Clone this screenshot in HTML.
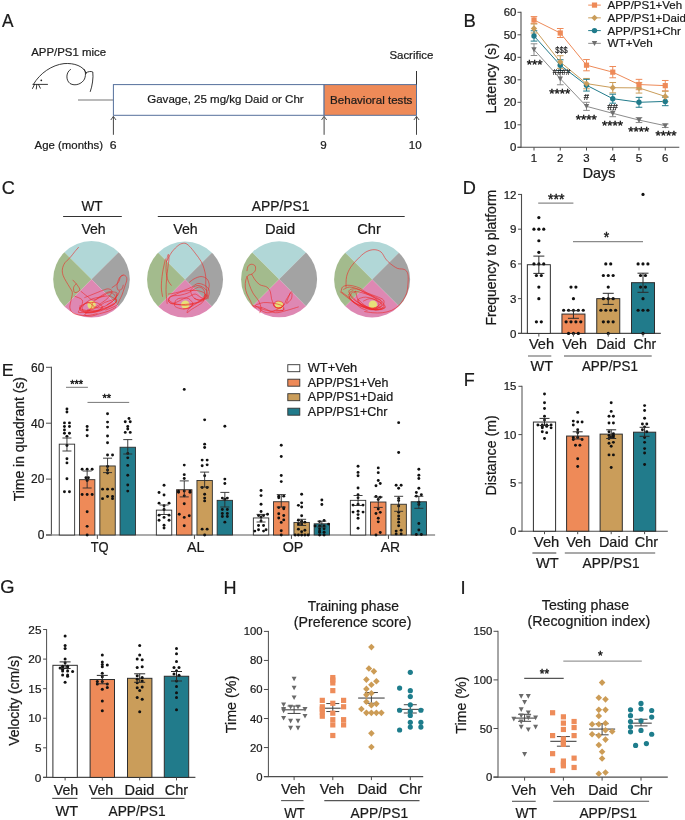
<!DOCTYPE html>
<html><head><meta charset="utf-8"><style>
html,body{margin:0;padding:0;background:#fff;width:685px;height:820px;overflow:hidden}
svg{display:block;font-family:"Liberation Sans",sans-serif;will-change:transform}
text{stroke:#1a1a1a;stroke-width:0.22px}
text.st{stroke:#111;stroke-width:0.4px}
</style></head><body>
<svg width="685" height="820" viewBox="0 0 685 820">
<rect x="0" y="0" width="685" height="820" fill="#ffffff"/>
<text x="2.00" y="27.20" font-size="18" fill="#1a1a1a" textLength="11.54" lengthAdjust="spacingAndGlyphs" >A</text>
<text x="31.20" y="55.70" font-size="11.5" fill="#1a1a1a" textLength="74.95" lengthAdjust="spacingAndGlyphs" >APP/PS1 mice</text>
<g fill="none" stroke="#222" stroke-width="0.9" stroke-linecap="round"><path d="M33.5,84.2 C40,73 52,65 64,63.6 C74,62.8 84,66 86.2,73.5"/><path d="M70.5,69.5 C66,72 65.5,80 70,83.5 C75,86.5 82,84 84.5,79 C86.5,74 85,70 84,69"/><path d="M85.5,73 C88,71.5 91,71 92.8,72 C93.5,78 92.3,86 90.3,91.5"/><path d="M33,84.4 L47.5,84.4"/><path d="M34.5,84.5 L32.5,88.5 M36.8,84.5 L36.3,89 M38.5,84.5 L40.3,88.2"/></g>
<circle cx="41.30" cy="80.30" r="0.9" fill="#222"/>
<line x1="78.00" y1="100.00" x2="113.40" y2="100.00" stroke="#777777" stroke-width="1.2" />
<rect x="113.40" y="84.60" width="210.70" height="30.70" fill="#ffffff" stroke="#55709c" stroke-width="1" />
<rect x="324.10" y="84.60" width="92.40" height="30.70" fill="#EE8A58" stroke="#55709c" stroke-width="1" />
<line x1="416.50" y1="71.00" x2="416.50" y2="84.60" stroke="#333" stroke-width="1" />
<text x="147.22" y="103.40" font-size="11.6" fill="#1a1a1a" textLength="156.48" lengthAdjust="spacingAndGlyphs" >Gavage, 25 mg/kg Daid or Chr</text>
<text x="330.07" y="103.80" font-size="11.6" fill="#1a1a1a" textLength="82.33" lengthAdjust="spacingAndGlyphs" >Behavioral tests</text>
<text x="389.38" y="59.40" font-size="11.6" fill="#1a1a1a" textLength="43.93" lengthAdjust="spacingAndGlyphs" >Sacrifice</text>
<line x1="113.40" y1="116.50" x2="113.40" y2="134.80" stroke="#444" stroke-width="1" />
<path d="M110.80,120 L113.40,116.3 L116.00,120" fill="none" stroke="#444" stroke-width="0.9"/>
<line x1="324.10" y1="116.50" x2="324.10" y2="134.80" stroke="#444" stroke-width="1" />
<path d="M321.50,120 L324.10,116.3 L326.70,120" fill="none" stroke="#444" stroke-width="0.9"/>
<line x1="416.50" y1="116.50" x2="416.50" y2="134.80" stroke="#444" stroke-width="1" />
<path d="M413.90,120 L416.50,116.3 L419.10,120" fill="none" stroke="#444" stroke-width="0.9"/>
<text x="34.60" y="148.50" font-size="11.6" fill="#1a1a1a" textLength="68.41" lengthAdjust="spacingAndGlyphs" >Age (months)</text>
<text x="109.79" y="148.50" font-size="11.6" fill="#1a1a1a" textLength="6.82" lengthAdjust="spacingAndGlyphs" >6</text>
<text x="320.28" y="148.50" font-size="11.6" fill="#1a1a1a" >9</text>
<text x="408.83" y="148.50" font-size="11.6" fill="#1a1a1a" >10</text>
<text x="463.52" y="27.20" font-size="18" fill="#1a1a1a" textLength="12.34" lengthAdjust="spacingAndGlyphs" >B</text>
<line x1="521.00" y1="11.80" x2="521.00" y2="147.80" stroke="#4d4d4d" stroke-width="1.1" />
<line x1="517.50" y1="147.30" x2="679.30" y2="147.30" stroke="#4d4d4d" stroke-width="1.1" />
<line x1="517.50" y1="147.30" x2="521.00" y2="147.30" stroke="#4d4d4d" stroke-width="1" />
<text x="510.07" y="151.40" font-size="11.4" fill="#1a1a1a">0</text>
<line x1="517.50" y1="124.80" x2="521.00" y2="124.80" stroke="#4d4d4d" stroke-width="1" />
<text x="503.75" y="128.90" font-size="11.4" fill="#1a1a1a">10</text>
<line x1="517.50" y1="102.30" x2="521.00" y2="102.30" stroke="#4d4d4d" stroke-width="1" />
<text x="503.75" y="106.40" font-size="11.4" fill="#1a1a1a">20</text>
<line x1="517.50" y1="79.80" x2="521.00" y2="79.80" stroke="#4d4d4d" stroke-width="1" />
<text x="503.75" y="83.90" font-size="11.4" fill="#1a1a1a">30</text>
<line x1="517.50" y1="57.30" x2="521.00" y2="57.30" stroke="#4d4d4d" stroke-width="1" />
<text x="503.75" y="61.40" font-size="11.4" fill="#1a1a1a">40</text>
<line x1="517.50" y1="34.80" x2="521.00" y2="34.80" stroke="#4d4d4d" stroke-width="1" />
<text x="503.75" y="38.90" font-size="11.4" fill="#1a1a1a">50</text>
<line x1="517.50" y1="12.30" x2="521.00" y2="12.30" stroke="#4d4d4d" stroke-width="1" />
<text x="503.75" y="16.40" font-size="11.4" fill="#1a1a1a">60</text>
<line x1="534.00" y1="147.30" x2="534.00" y2="150.50" stroke="#4d4d4d" stroke-width="1" />
<text x="530.67" y="161.80" font-size="11.4" fill="#1a1a1a" >1</text>
<line x1="560.25" y1="147.30" x2="560.25" y2="150.50" stroke="#4d4d4d" stroke-width="1" />
<text x="557.09" y="161.80" font-size="11.4" fill="#1a1a1a" >2</text>
<line x1="586.50" y1="147.30" x2="586.50" y2="150.50" stroke="#4d4d4d" stroke-width="1" />
<text x="583.34" y="161.80" font-size="11.4" fill="#1a1a1a" >3</text>
<line x1="612.75" y1="147.30" x2="612.75" y2="150.50" stroke="#4d4d4d" stroke-width="1" />
<text x="609.64" y="161.80" font-size="11.4" fill="#1a1a1a" >4</text>
<line x1="639.00" y1="147.30" x2="639.00" y2="150.50" stroke="#4d4d4d" stroke-width="1" />
<text x="635.84" y="161.80" font-size="11.4" fill="#1a1a1a" >5</text>
<line x1="665.25" y1="147.30" x2="665.25" y2="150.50" stroke="#4d4d4d" stroke-width="1" />
<text x="662.03" y="161.80" font-size="11.4" fill="#1a1a1a" >6</text>
<text x="582.75" y="178.20" font-size="14.2" fill="#1a1a1a" textLength="32.62" lengthAdjust="spacingAndGlyphs" >Days</text>
<text x="0" y="0" font-size="14" fill="#1a1a1a" textLength="70.31" lengthAdjust="spacingAndGlyphs" transform="translate(496.20,113.44) rotate(-90)">Latency (s)</text>
<polyline points="534.00,19.95 560.25,33.00 586.50,65.18 612.75,72.15 639.00,84.53 665.25,85.65" fill="none" stroke="#EE8A58" stroke-width="1"/>
<polyline points="534.00,28.50 560.25,62.03 586.50,83.62 612.75,87.68 639.00,87.90 665.25,96.45" fill="none" stroke="#CA9D5A" stroke-width="1"/>
<polyline points="534.00,35.93 560.25,65.18 586.50,85.20 612.75,98.70 639.00,102.30 665.25,101.40" fill="none" stroke="#217B8B" stroke-width="1"/>
<polyline points="534.00,49.65 560.25,78.68 586.50,106.35 612.75,113.33 639.00,120.08 665.25,125.70" fill="none" stroke="#8c8c8c" stroke-width="1"/>
<line x1="534.00" y1="16.58" x2="534.00" y2="23.33" stroke="#EE8A58" stroke-width="1" />
<line x1="530.70" y1="16.58" x2="537.30" y2="16.58" stroke="#EE8A58" stroke-width="1" />
<line x1="530.70" y1="23.33" x2="537.30" y2="23.33" stroke="#EE8A58" stroke-width="1" />
<line x1="560.25" y1="28.50" x2="560.25" y2="37.50" stroke="#EE8A58" stroke-width="1" />
<line x1="556.95" y1="28.50" x2="563.55" y2="28.50" stroke="#EE8A58" stroke-width="1" />
<line x1="556.95" y1="37.50" x2="563.55" y2="37.50" stroke="#EE8A58" stroke-width="1" />
<line x1="586.50" y1="59.55" x2="586.50" y2="70.80" stroke="#EE8A58" stroke-width="1" />
<line x1="583.20" y1="59.55" x2="589.80" y2="59.55" stroke="#EE8A58" stroke-width="1" />
<line x1="583.20" y1="70.80" x2="589.80" y2="70.80" stroke="#EE8A58" stroke-width="1" />
<line x1="612.75" y1="66.53" x2="612.75" y2="77.78" stroke="#EE8A58" stroke-width="1" />
<line x1="609.45" y1="66.53" x2="616.05" y2="66.53" stroke="#EE8A58" stroke-width="1" />
<line x1="609.45" y1="77.78" x2="616.05" y2="77.78" stroke="#EE8A58" stroke-width="1" />
<line x1="639.00" y1="79.35" x2="639.00" y2="89.70" stroke="#EE8A58" stroke-width="1" />
<line x1="635.70" y1="79.35" x2="642.30" y2="79.35" stroke="#EE8A58" stroke-width="1" />
<line x1="635.70" y1="89.70" x2="642.30" y2="89.70" stroke="#EE8A58" stroke-width="1" />
<line x1="665.25" y1="80.48" x2="665.25" y2="90.83" stroke="#EE8A58" stroke-width="1" />
<line x1="661.95" y1="80.48" x2="668.55" y2="80.48" stroke="#EE8A58" stroke-width="1" />
<line x1="661.95" y1="90.83" x2="668.55" y2="90.83" stroke="#EE8A58" stroke-width="1" />
<line x1="534.00" y1="24.00" x2="534.00" y2="33.00" stroke="#CA9D5A" stroke-width="1" />
<line x1="530.70" y1="24.00" x2="537.30" y2="24.00" stroke="#CA9D5A" stroke-width="1" />
<line x1="530.70" y1="33.00" x2="537.30" y2="33.00" stroke="#CA9D5A" stroke-width="1" />
<line x1="560.25" y1="55.73" x2="560.25" y2="68.33" stroke="#CA9D5A" stroke-width="1" />
<line x1="556.95" y1="55.73" x2="563.55" y2="55.73" stroke="#CA9D5A" stroke-width="1" />
<line x1="556.95" y1="68.33" x2="563.55" y2="68.33" stroke="#CA9D5A" stroke-width="1" />
<line x1="586.50" y1="78.45" x2="586.50" y2="88.80" stroke="#CA9D5A" stroke-width="1" />
<line x1="583.20" y1="78.45" x2="589.80" y2="78.45" stroke="#CA9D5A" stroke-width="1" />
<line x1="583.20" y1="88.80" x2="589.80" y2="88.80" stroke="#CA9D5A" stroke-width="1" />
<line x1="612.75" y1="82.50" x2="612.75" y2="92.85" stroke="#CA9D5A" stroke-width="1" />
<line x1="609.45" y1="82.50" x2="616.05" y2="82.50" stroke="#CA9D5A" stroke-width="1" />
<line x1="609.45" y1="92.85" x2="616.05" y2="92.85" stroke="#CA9D5A" stroke-width="1" />
<line x1="639.00" y1="82.73" x2="639.00" y2="93.08" stroke="#CA9D5A" stroke-width="1" />
<line x1="635.70" y1="82.73" x2="642.30" y2="82.73" stroke="#CA9D5A" stroke-width="1" />
<line x1="635.70" y1="93.08" x2="642.30" y2="93.08" stroke="#CA9D5A" stroke-width="1" />
<line x1="665.25" y1="91.28" x2="665.25" y2="101.62" stroke="#CA9D5A" stroke-width="1" />
<line x1="661.95" y1="91.28" x2="668.55" y2="91.28" stroke="#CA9D5A" stroke-width="1" />
<line x1="661.95" y1="101.62" x2="668.55" y2="101.62" stroke="#CA9D5A" stroke-width="1" />
<line x1="534.00" y1="30.75" x2="534.00" y2="41.10" stroke="#217B8B" stroke-width="1" />
<line x1="530.70" y1="30.75" x2="537.30" y2="30.75" stroke="#217B8B" stroke-width="1" />
<line x1="530.70" y1="41.10" x2="537.30" y2="41.10" stroke="#217B8B" stroke-width="1" />
<line x1="560.25" y1="59.78" x2="560.25" y2="70.58" stroke="#217B8B" stroke-width="1" />
<line x1="556.95" y1="59.78" x2="563.55" y2="59.78" stroke="#217B8B" stroke-width="1" />
<line x1="556.95" y1="70.58" x2="563.55" y2="70.58" stroke="#217B8B" stroke-width="1" />
<line x1="586.50" y1="79.35" x2="586.50" y2="91.05" stroke="#217B8B" stroke-width="1" />
<line x1="583.20" y1="79.35" x2="589.80" y2="79.35" stroke="#217B8B" stroke-width="1" />
<line x1="583.20" y1="91.05" x2="589.80" y2="91.05" stroke="#217B8B" stroke-width="1" />
<line x1="612.75" y1="94.20" x2="612.75" y2="103.20" stroke="#217B8B" stroke-width="1" />
<line x1="609.45" y1="94.20" x2="616.05" y2="94.20" stroke="#217B8B" stroke-width="1" />
<line x1="609.45" y1="103.20" x2="616.05" y2="103.20" stroke="#217B8B" stroke-width="1" />
<line x1="639.00" y1="97.35" x2="639.00" y2="107.25" stroke="#217B8B" stroke-width="1" />
<line x1="635.70" y1="97.35" x2="642.30" y2="97.35" stroke="#217B8B" stroke-width="1" />
<line x1="635.70" y1="107.25" x2="642.30" y2="107.25" stroke="#217B8B" stroke-width="1" />
<line x1="665.25" y1="97.13" x2="665.25" y2="105.68" stroke="#217B8B" stroke-width="1" />
<line x1="661.95" y1="97.13" x2="668.55" y2="97.13" stroke="#217B8B" stroke-width="1" />
<line x1="661.95" y1="105.68" x2="668.55" y2="105.68" stroke="#217B8B" stroke-width="1" />
<line x1="534.00" y1="43.80" x2="534.00" y2="55.50" stroke="#8c8c8c" stroke-width="1" />
<line x1="530.70" y1="43.80" x2="537.30" y2="43.80" stroke="#8c8c8c" stroke-width="1" />
<line x1="530.70" y1="55.50" x2="537.30" y2="55.50" stroke="#8c8c8c" stroke-width="1" />
<line x1="560.25" y1="72.60" x2="560.25" y2="84.75" stroke="#8c8c8c" stroke-width="1" />
<line x1="556.95" y1="72.60" x2="563.55" y2="72.60" stroke="#8c8c8c" stroke-width="1" />
<line x1="556.95" y1="84.75" x2="563.55" y2="84.75" stroke="#8c8c8c" stroke-width="1" />
<line x1="586.50" y1="102.30" x2="586.50" y2="110.40" stroke="#8c8c8c" stroke-width="1" />
<line x1="583.20" y1="102.30" x2="589.80" y2="102.30" stroke="#8c8c8c" stroke-width="1" />
<line x1="583.20" y1="110.40" x2="589.80" y2="110.40" stroke="#8c8c8c" stroke-width="1" />
<line x1="612.75" y1="109.95" x2="612.75" y2="116.70" stroke="#8c8c8c" stroke-width="1" />
<line x1="609.45" y1="109.95" x2="616.05" y2="109.95" stroke="#8c8c8c" stroke-width="1" />
<line x1="609.45" y1="116.70" x2="616.05" y2="116.70" stroke="#8c8c8c" stroke-width="1" />
<line x1="639.00" y1="117.60" x2="639.00" y2="122.55" stroke="#8c8c8c" stroke-width="1" />
<line x1="635.70" y1="117.60" x2="642.30" y2="117.60" stroke="#8c8c8c" stroke-width="1" />
<line x1="635.70" y1="122.55" x2="642.30" y2="122.55" stroke="#8c8c8c" stroke-width="1" />
<line x1="665.25" y1="123.90" x2="665.25" y2="127.50" stroke="#8c8c8c" stroke-width="1" />
<line x1="661.95" y1="123.90" x2="668.55" y2="123.90" stroke="#8c8c8c" stroke-width="1" />
<line x1="661.95" y1="127.50" x2="668.55" y2="127.50" stroke="#8c8c8c" stroke-width="1" />
<path d="M531.30,47.36 L536.70,47.36 L534.00,52.35 Z" fill="#6f6f6f"/>
<path d="M557.55,76.38 L562.95,76.38 L560.25,81.38 Z" fill="#6f6f6f"/>
<path d="M583.80,104.06 L589.20,104.06 L586.50,109.05 Z" fill="#6f6f6f"/>
<path d="M610.05,111.03 L615.45,111.03 L612.75,116.03 Z" fill="#6f6f6f"/>
<path d="M636.30,117.78 L641.70,117.78 L639.00,122.78 Z" fill="#6f6f6f"/>
<path d="M662.55,123.41 L667.95,123.41 L665.25,128.40 Z" fill="#6f6f6f"/>
<circle cx="534.00" cy="35.93" r="2.7" fill="#217B8B"/>
<circle cx="560.25" cy="65.18" r="2.7" fill="#217B8B"/>
<circle cx="586.50" cy="85.20" r="2.7" fill="#217B8B"/>
<circle cx="612.75" cy="98.70" r="2.7" fill="#217B8B"/>
<circle cx="639.00" cy="102.30" r="2.7" fill="#217B8B"/>
<circle cx="665.25" cy="101.40" r="2.7" fill="#217B8B"/>
<path d="M534.00,25.30 L537.20,28.50 L534.00,31.70 L530.80,28.50 Z" fill="#CA9D5A"/>
<path d="M560.25,58.83 L563.45,62.03 L560.25,65.23 L557.05,62.03 Z" fill="#CA9D5A"/>
<path d="M586.50,80.42 L589.70,83.62 L586.50,86.83 L583.30,83.62 Z" fill="#CA9D5A"/>
<path d="M612.75,84.48 L615.95,87.68 L612.75,90.88 L609.55,87.68 Z" fill="#CA9D5A"/>
<path d="M639.00,84.70 L642.20,87.90 L639.00,91.10 L635.80,87.90 Z" fill="#CA9D5A"/>
<path d="M665.25,93.25 L668.45,96.45 L665.25,99.65 L662.05,96.45 Z" fill="#CA9D5A"/>
<rect x="531.40" y="17.35" width="5.20" height="5.20" fill="#EE8A58" stroke="none" stroke-width="1" />
<rect x="557.65" y="30.40" width="5.20" height="5.20" fill="#EE8A58" stroke="none" stroke-width="1" />
<rect x="583.90" y="62.58" width="5.20" height="5.20" fill="#EE8A58" stroke="none" stroke-width="1" />
<rect x="610.15" y="69.55" width="5.20" height="5.20" fill="#EE8A58" stroke="none" stroke-width="1" />
<rect x="636.40" y="81.93" width="5.20" height="5.20" fill="#EE8A58" stroke="none" stroke-width="1" />
<rect x="662.65" y="83.05" width="5.20" height="5.20" fill="#EE8A58" stroke="none" stroke-width="1" />
<line x1="588.20" y1="5.10" x2="600.80" y2="5.10" stroke="#EE8A58" stroke-width="1" />
<rect x="591.90" y="2.50" width="5.20" height="5.20" fill="#EE8A58" stroke="none" stroke-width="1" />
<text x="607.60" y="8.80" font-size="11.4" fill="#1a1a1a" textLength="74.58" lengthAdjust="spacingAndGlyphs" >APP/PS1+Veh</text>
<line x1="588.20" y1="17.85" x2="600.80" y2="17.85" stroke="#CA9D5A" stroke-width="1" />
<path d="M594.50,14.65 L597.70,17.85 L594.50,21.05 L591.30,17.85 Z" fill="#CA9D5A"/>
<text x="607.60" y="21.6" font-size="11.4" fill="#1a1a1a" textLength="78.40" lengthAdjust="spacingAndGlyphs">APP/PS1+Daid</text>
<line x1="588.20" y1="30.60" x2="600.80" y2="30.60" stroke="#217B8B" stroke-width="1" />
<circle cx="594.50" cy="30.60" r="2.7" fill="#217B8B"/>
<text x="607.60" y="35.00" font-size="11.4" fill="#1a1a1a" textLength="73.22" lengthAdjust="spacingAndGlyphs" >APP/PS1+Chr</text>
<line x1="588.20" y1="43.35" x2="600.80" y2="43.35" stroke="#8c8c8c" stroke-width="1" />
<path d="M591.80,41.05 L597.20,41.05 L594.50,46.05 Z" fill="#6f6f6f"/>
<text x="607.54" y="47.40" font-size="11.4" fill="#1a1a1a" textLength="45.15" lengthAdjust="spacingAndGlyphs" >WT+Veh</text>
<text x="526.70" y="69.20" font-size="13.5" fill="#1a1a1a" class="st">***</text>
<text x="549.20" y="97.50" font-size="13.5" fill="#1a1a1a" class="st">****</text>
<text x="575.80" y="124.10" font-size="13.5" fill="#1a1a1a" class="st">****</text>
<text x="602.10" y="129.70" font-size="13.5" fill="#1a1a1a" class="st">****</text>
<text x="628.30" y="135.80" font-size="13.5" fill="#1a1a1a" class="st">****</text>
<text x="655.50" y="140.20" font-size="13.5" fill="#1a1a1a" class="st">****</text>
<text x="555.33" y="52.50" font-size="9.5" fill="#1a1a1a" textLength="12.41" lengthAdjust="spacingAndGlyphs" >$$$</text>
<text x="552.76" y="75.00" font-size="9.5" fill="#1a1a1a" textLength="17.58" lengthAdjust="spacingAndGlyphs" >####</text>
<text x="583.66" y="100.40" font-size="9.5" fill="#1a1a1a" >#</text>
<text x="607.33" y="110.30" font-size="9.5" fill="#1a1a1a" >##</text>
<text x="1.69" y="193.80" font-size="18" fill="#1a1a1a" textLength="13.08" lengthAdjust="spacingAndGlyphs" >C</text>
<text x="81.43" y="210.80" font-size="14.2" fill="#1a1a1a" textLength="21.24" lengthAdjust="spacingAndGlyphs" >WT</text>
<line x1="63.10" y1="216.50" x2="121.80" y2="216.50" stroke="#333" stroke-width="1" />
<text x="81.43" y="233.80" font-size="14.2" fill="#1a1a1a" textLength="24.27" lengthAdjust="spacingAndGlyphs" >Veh</text>
<text x="251.80" y="210.80" font-size="14.2" fill="#1a1a1a" textLength="57.71" lengthAdjust="spacingAndGlyphs" >APP/PS1</text>
<line x1="157.80" y1="216.50" x2="404.70" y2="216.50" stroke="#333" stroke-width="1" />
<text x="173.23" y="233.80" font-size="14.2" fill="#1a1a1a" textLength="24.48" lengthAdjust="spacingAndGlyphs" >Veh</text>
<text x="265.03" y="233.80" font-size="14.2" fill="#1a1a1a" textLength="30.15" lengthAdjust="spacingAndGlyphs" >Daid</text>
<text x="357.27" y="233.80" font-size="14.2" fill="#1a1a1a" textLength="23.68" lengthAdjust="spacingAndGlyphs" >Chr</text>
<path d="M91.5,279.3 L64.42,252.22 A38.3,38.3 0 0 1 118.58,252.22 Z" fill="#B1D7D7"/>
<path d="M91.5,279.3 L118.58,252.22 A38.3,38.3 0 0 1 118.58,306.38 Z" fill="#A3A3A3"/>
<path d="M91.5,279.3 L118.58,306.38 A38.3,38.3 0 0 1 64.42,306.38 Z" fill="#DE88B3"/>
<path d="M91.5,279.3 L64.42,306.38 A38.3,38.3 0 0 1 64.42,252.22 Z" fill="#A3BB8D"/>
<circle cx="91.60" cy="305.00" r="4.2" fill="#E6E07A"/>
<path d="M78.54,247.31 C77.92,248.03 76.26,249.89 74.81,251.65 C73.37,253.41 71.51,255.99 69.85,257.85 C68.20,259.71 66.13,260.95 64.89,262.81 C63.65,264.67 62.72,266.95 62.41,269.02 C62.10,271.09 62.41,273.15 63.03,275.22 C63.65,277.29 64.99,279.36 66.13,281.42 C67.27,283.49 68.82,285.77 69.85,287.63 C70.89,289.49 72.13,290.52 72.33,292.59 C72.54,294.66 71.51,297.55 71.09,300.03 C70.68,302.52 69.64,305.41 69.85,307.48 C70.06,309.55 70.89,311.20 72.33,312.44 C73.78,313.68 76.05,314.41 78.54,314.92 C81.02,315.44 84.12,315.75 87.22,315.54 C90.32,315.34 95.49,313.99 97.15,313.68" fill="none" stroke="#EE2626" stroke-width="0.6" stroke-linejoin="round" stroke-linecap="round"/>
<path d="M72.95,280.18 C73.68,281.01 76.16,283.49 77.30,285.15 C78.43,286.80 80.19,288.87 79.78,290.11 C79.36,291.35 75.85,293.00 74.81,292.59 C73.78,292.18 73.37,289.08 73.57,287.63 C73.78,286.18 75.64,284.53 76.05,283.91" fill="none" stroke="#EE2626" stroke-width="0.6" stroke-linejoin="round" stroke-linecap="round"/>
<path d="M112.03,287.63 C113.07,286.80 116.79,284.53 118.24,282.67 C119.69,280.80 119.69,277.70 120.72,276.46 C121.75,275.22 123.41,274.81 124.44,275.22 C125.48,275.63 126.92,276.88 126.92,278.94 C126.92,281.01 125.27,284.94 124.44,287.63 C123.61,290.32 122.79,293.00 121.96,295.07 C121.13,297.14 120.31,298.38 119.48,300.03 C118.65,301.69 118.24,303.76 117.00,305.00 C115.76,306.24 113.90,306.65 112.03,307.48 C110.17,308.31 106.87,309.55 105.83,309.96" fill="none" stroke="#EE2626" stroke-width="0.6" stroke-linejoin="round" stroke-linecap="round"/>
<path d="M123.20,275.22 C122.58,275.63 120.51,276.05 119.48,277.70 C118.44,279.36 117.20,283.08 117.00,285.15 C116.79,287.21 117.41,289.49 118.24,290.11 C119.07,290.73 121.13,289.70 121.96,288.87 C122.79,288.04 122.99,285.77 123.20,285.15" fill="none" stroke="#EE2626" stroke-width="0.6" stroke-linejoin="round" stroke-linecap="round"/>
<path d="M81.02,291.35 C82.05,292.18 85.15,294.87 87.22,296.31 C89.29,297.76 90.94,300.03 93.42,300.03 C95.91,300.03 99.42,297.55 102.11,296.31 C104.80,295.07 107.49,292.80 109.55,292.59 C111.62,292.38 113.48,293.42 114.52,295.07 C115.55,296.73 116.79,300.45 115.76,302.52 C114.72,304.58 111.00,306.03 108.31,307.48 C105.62,308.93 102.52,310.37 99.63,311.20 C96.73,312.03 93.42,312.23 90.94,312.44 C88.46,312.65 86.19,313.27 84.74,312.44 C83.29,311.61 81.84,309.13 82.26,307.48 C82.67,305.82 85.57,302.93 87.22,302.52 C88.88,302.10 91.77,303.76 92.18,305.00 C92.60,306.24 90.94,308.31 89.70,309.96 C88.46,311.61 84.53,313.89 84.74,314.92 C84.95,315.96 88.46,316.37 90.94,316.16 C93.42,315.96 96.73,314.51 99.63,313.68 C102.52,312.86 105.62,312.23 108.31,311.20 C111.00,310.17 114.52,308.10 115.76,307.48" fill="none" stroke="#EE2626" stroke-width="0.6" stroke-linejoin="round" stroke-linecap="round"/>
<path d="M74.81,296.31 C76.05,296.93 81.22,298.17 82.26,300.03 C83.29,301.90 81.64,305.41 81.02,307.48 C80.40,309.55 77.50,311.82 78.54,312.44 C79.57,313.06 84.12,312.03 87.22,311.20 C90.32,310.37 94.25,308.93 97.15,307.48 C100.04,306.03 102.11,303.76 104.59,302.52 C107.07,301.28 109.97,301.07 112.03,300.03 C114.10,299.00 115.76,297.76 117.00,296.31 C118.24,294.87 119.07,292.18 119.48,291.35" fill="none" stroke="#EE2626" stroke-width="0.6" stroke-linejoin="round" stroke-linecap="round"/>
<path d="M84.74,297.55 C85.77,297.14 88.88,295.90 90.94,295.07 C93.01,294.24 95.08,293.42 97.15,292.59 C99.21,291.76 101.49,290.73 103.35,290.11 C105.21,289.49 106.87,288.66 108.31,288.87 C109.76,289.08 112.03,289.90 112.03,291.35 C112.03,292.80 109.97,295.69 108.31,297.55 C106.66,299.41 104.38,300.86 102.11,302.52 C99.83,304.17 97.15,306.24 94.67,307.48 C92.18,308.72 88.46,309.55 87.22,309.96" fill="none" stroke="#EE2626" stroke-width="0.6" stroke-linejoin="round" stroke-linecap="round"/>
<path d="M115.36,299.42 C115.51,299.87 116.91,301.09 116.24,302.13 C115.57,303.17 113.45,304.62 111.35,305.66 C109.26,306.71 106.26,307.57 103.68,308.40 C101.10,309.23 98.42,310.16 95.87,310.64 C93.33,311.11 90.67,311.26 88.43,311.27 C86.18,311.27 83.91,311.13 82.43,310.68 C80.95,310.23 79.50,309.49 79.52,308.57 C79.55,307.66 81.35,306.28 82.57,305.20 C83.80,304.11 85.22,303.16 86.88,302.07 C88.55,300.98 90.25,299.51 92.58,298.66 C94.91,297.81 98.16,297.41 100.88,296.95 C103.59,296.48 106.88,295.77 108.85,295.87 C110.83,295.97 111.49,296.98 112.73,297.54 C113.96,298.09 115.73,298.42 116.26,299.19 C116.79,299.96 116.89,301.11 115.90,302.16 C114.90,303.21 112.22,304.38 110.29,305.51 C108.35,306.64 106.72,308.01 104.29,308.94 C101.86,309.87 98.24,310.78 95.71,311.08 C93.18,311.39 91.05,310.94 89.10,310.76 C87.15,310.58 85.47,310.39 83.99,310.00 C82.51,309.61 80.85,309.16 80.24,308.39 C79.62,307.63 80.28,305.90 80.29,305.41" fill="none" stroke="#EE2626" stroke-width="0.6" stroke-linejoin="round" stroke-linecap="round"/>
<path d="M102.86,306.28 C102.64,306.75 102.58,308.32 101.52,309.09 C100.46,309.87 98.19,310.43 96.50,310.93 C94.82,311.43 93.23,311.82 91.41,312.09 C89.58,312.36 87.24,312.75 85.54,312.57 C83.84,312.40 82.22,311.70 81.21,311.04 C80.21,310.38 79.50,309.46 79.53,308.62 C79.56,307.79 80.49,306.84 81.38,306.02 C82.26,305.20 83.35,304.29 84.86,303.70 C86.37,303.10 88.56,302.64 90.44,302.46 C92.32,302.27 94.57,302.29 96.14,302.58 C97.70,302.88 98.84,303.60 99.80,304.23 C100.77,304.86 101.79,305.59 101.93,306.38 C102.07,307.16 101.44,308.13 100.64,308.96 C99.85,309.78 98.67,310.69 97.14,311.33 C95.61,311.97 93.43,312.59 91.48,312.81 C89.53,313.03 86.45,312.68 85.45,312.66" fill="none" stroke="#EE2626" stroke-width="0.6" stroke-linejoin="round" stroke-linecap="round"/>
<path d="M116.07,293.77 C116.12,294.27 116.94,295.59 116.38,296.80 C115.83,298.00 114.24,299.62 112.72,300.99 C111.21,302.36 109.29,303.90 107.31,305.02 C105.33,306.13 102.70,307.27 100.85,307.70 C98.99,308.13 97.40,307.86 96.18,307.59 C94.97,307.31 94.20,306.76 93.55,306.07 C92.89,305.37 91.74,304.59 92.25,303.43 C92.76,302.26 94.97,300.45 96.60,299.10 C98.23,297.75 100.04,296.54 102.03,295.34 C104.02,294.15 106.63,292.49 108.55,291.92 C110.48,291.36 112.14,291.75 113.58,291.96 C115.02,292.16 116.77,292.33 117.21,293.14 C117.66,293.95 116.95,295.52 116.26,296.83 C115.57,298.15 114.61,299.72 113.08,301.03 C111.56,302.33 108.11,304.06 107.12,304.66" fill="none" stroke="#EE2626" stroke-width="0.6" stroke-linejoin="round" stroke-linecap="round"/>
<path d="M185.05,279.6 L158.18,252.73 A38.0,38.0 0 0 1 211.92,252.73 Z" fill="#B1D7D7"/>
<path d="M185.05,279.6 L211.92,252.73 A38.0,38.0 0 0 1 211.92,306.47 Z" fill="#A3A3A3"/>
<path d="M185.05,279.6 L211.92,306.47 A38.0,38.0 0 0 1 158.18,306.47 Z" fill="#DE88B3"/>
<path d="M185.05,279.6 L158.18,306.47 A38.0,38.0 0 0 1 158.18,252.73 Z" fill="#A3BB8D"/>
<circle cx="185.30" cy="304.60" r="4.2" fill="#E6E07A"/>
<path d="M171.28,285.30 C170.79,284.62 169.14,282.87 168.36,281.21 C167.58,279.56 167.00,277.71 166.61,275.37 C166.22,273.04 165.92,270.12 166.02,267.20 C166.12,264.28 166.80,260.00 167.19,257.85 C167.58,255.71 168.07,254.16 168.36,254.35 C168.65,254.55 169.04,256.69 168.94,259.02 C168.84,261.36 168.16,265.06 167.77,268.36 C167.38,271.67 166.90,275.37 166.61,278.88 C166.31,282.38 166.02,286.08 166.02,289.39 C166.02,292.70 166.41,296.39 166.61,298.73 C166.80,301.07 167.09,302.62 167.19,303.40" fill="none" stroke="#EE2626" stroke-width="0.6" stroke-linejoin="round" stroke-linecap="round"/>
<path d="M165.44,259.02 C164.95,261.36 163.20,268.36 162.52,273.04 C161.84,277.71 161.35,283.16 161.35,287.05 C161.35,290.94 162.32,294.84 162.52,296.39" fill="none" stroke="#EE2626" stroke-width="0.6" stroke-linejoin="round" stroke-linecap="round"/>
<path d="M166.61,261.36 C167.48,259.80 169.82,254.74 171.86,252.01 C173.91,249.29 176.73,246.47 178.87,245.01 C181.01,243.55 182.96,243.06 184.71,243.26 C186.46,243.45 187.63,244.52 189.38,246.18 C191.13,247.83 193.27,250.65 195.22,253.18 C197.17,255.71 199.60,258.83 201.06,261.36 C202.52,263.89 203.20,265.83 203.98,268.36 C204.76,270.90 205.44,273.82 205.73,276.54 C206.02,279.27 205.54,282.18 205.73,284.72 C205.92,287.25 206.51,289.39 206.90,291.72 C207.29,294.06 207.87,297.56 208.07,298.73" fill="none" stroke="#EE2626" stroke-width="0.6" stroke-linejoin="round" stroke-linecap="round"/>
<path d="M168.36,294.06 C169.53,293.86 172.83,293.47 175.36,292.89 C177.90,292.31 180.82,291.53 183.54,290.55 C186.27,289.58 189.38,288.22 191.72,287.05 C194.05,285.88 195.61,283.94 197.55,283.55 C199.50,283.16 201.64,283.94 203.39,284.72 C205.15,285.49 207.09,286.86 208.07,288.22 C209.04,289.58 209.43,291.14 209.23,292.89 C209.04,294.64 208.26,297.95 206.90,298.73 C205.54,299.51 203.00,298.34 201.06,297.56 C199.11,296.78 197.17,294.25 195.22,294.06 C193.27,293.86 191.33,295.62 189.38,296.39 C187.43,297.17 185.68,297.76 183.54,298.73 C181.40,299.70 178.48,301.45 176.53,302.23 C174.59,303.01 173.22,303.60 171.86,303.40 C170.50,303.21 168.55,302.23 168.36,301.07 C168.16,299.90 168.75,297.37 170.69,296.39 C172.64,295.42 177.12,295.81 180.04,295.23 C182.96,294.64 185.88,293.86 188.21,292.89 C190.55,291.92 192.10,290.36 194.05,289.39 C196.00,288.41 198.14,286.66 199.89,287.05 C201.64,287.44 203.98,289.39 204.56,291.72 C205.15,294.06 204.56,298.73 203.39,301.07 C202.23,303.40 199.50,304.37 197.55,305.74 C195.61,307.10 193.47,308.07 191.72,309.24 C189.96,310.41 187.43,312.94 187.04,312.74 C186.65,312.55 187.82,309.63 189.38,308.07 C190.94,306.52 194.25,304.96 196.39,303.40 C198.53,301.84 200.67,300.29 202.23,298.73 C203.78,297.17 205.15,294.84 205.73,294.06" fill="none" stroke="#EE2626" stroke-width="0.6" stroke-linejoin="round" stroke-linecap="round"/>
<path d="M189.38,282.38 C190.16,281.80 192.10,279.85 194.05,278.88 C196.00,277.90 198.92,276.54 201.06,276.54 C203.20,276.54 205.54,277.51 206.90,278.88 C208.26,280.24 209.04,282.77 209.23,284.72 C209.43,286.66 208.26,289.58 208.07,290.55" fill="none" stroke="#EE2626" stroke-width="0.6" stroke-linejoin="round" stroke-linecap="round"/>
<path d="M205.91,294.89 C205.63,295.41 205.15,296.97 204.23,298.02 C203.30,299.07 202.21,300.29 200.34,301.18 C198.48,302.07 195.56,302.82 193.06,303.36 C190.56,303.90 187.90,304.22 185.34,304.43 C182.77,304.64 180.08,304.77 177.68,304.61 C175.28,304.45 172.41,304.14 170.94,303.45 C169.46,302.77 168.94,301.56 168.85,300.49 C168.76,299.42 169.12,298.12 170.39,297.05 C171.65,295.98 174.31,294.99 176.42,294.05 C178.53,293.11 180.59,291.99 183.05,291.39 C185.51,290.79 188.64,290.55 191.19,290.45 C193.74,290.35 196.32,290.46 198.35,290.78 C200.38,291.10 202.14,291.70 203.38,292.39 C204.63,293.07 205.33,293.95 205.84,294.90 C206.36,295.85 207.26,297.00 206.48,298.09 C205.71,299.17 203.35,300.45 201.20,301.43 C199.05,302.42 196.30,303.35 193.60,304.00 C190.89,304.64 187.57,305.23 184.97,305.29 C182.38,305.35 180.11,304.77 178.04,304.37 C175.96,303.97 173.96,303.58 172.51,302.92 C171.07,302.26 169.89,300.83 169.36,300.41" fill="none" stroke="#EE2626" stroke-width="0.6" stroke-linejoin="round" stroke-linecap="round"/>
<path d="M193.07,303.40 C192.88,303.86 192.72,305.34 191.94,306.13 C191.17,306.93 189.83,307.68 188.43,308.17 C187.03,308.65 185.16,309.04 183.54,309.03 C181.92,309.02 180.13,308.60 178.69,308.13 C177.25,307.66 175.53,306.99 174.90,306.21 C174.27,305.42 174.80,304.30 174.90,303.40 C175.00,302.50 174.89,301.60 175.49,300.79 C176.10,299.98 177.20,298.99 178.54,298.53 C179.88,298.07 181.88,298.02 183.54,298.02 C185.20,298.03 187.25,298.07 188.51,298.56 C189.78,299.04 190.41,300.13 191.13,300.94 C191.85,301.74 192.81,302.57 192.84,303.40 C192.87,304.23 192.07,305.16 191.30,305.92 C190.54,306.69 189.54,307.52 188.24,307.98 C186.95,308.45 184.32,308.60 183.54,308.72" fill="none" stroke="#EE2626" stroke-width="0.6" stroke-linejoin="round" stroke-linecap="round"/>
<path d="M206.90,295.42 C206.43,296.03 205.38,298.32 204.09,299.08 C202.80,299.84 200.76,300.12 199.17,299.99 C197.57,299.86 195.74,299.18 194.51,298.30 C193.28,297.42 192.42,296.03 191.79,294.71 C191.16,293.40 190.40,291.69 190.71,290.41 C191.02,289.13 192.39,287.85 193.65,287.03 C194.90,286.21 196.70,285.42 198.26,285.48 C199.82,285.54 201.63,286.49 203.02,287.38 C204.40,288.27 206.05,289.52 206.58,290.82 C207.12,292.13 206.67,293.85 206.25,295.22 C205.83,296.59 205.25,298.22 204.07,299.06 C202.89,299.91 200.79,300.37 199.18,300.27 C197.57,300.16 195.20,298.74 194.40,298.43" fill="none" stroke="#EE2626" stroke-width="0.6" stroke-linejoin="round" stroke-linecap="round"/>
<path d="M279.1,279.3 L252.23,252.43 A38.0,38.0 0 0 1 305.97,252.43 Z" fill="#B1D7D7"/>
<path d="M279.1,279.3 L305.97,252.43 A38.0,38.0 0 0 1 305.97,306.17 Z" fill="#A3A3A3"/>
<path d="M279.1,279.3 L305.97,306.17 A38.0,38.0 0 0 1 252.23,306.17 Z" fill="#DE88B3"/>
<path d="M279.1,279.3 L252.23,306.17 A38.0,38.0 0 0 1 252.23,252.43 Z" fill="#A3BB8D"/>
<circle cx="279.10" cy="305.20" r="4.2" fill="#E6E07A"/>
<path d="M247.01,270.70 C247.20,269.92 247.40,267.10 248.18,266.03 C248.95,264.96 250.51,264.28 251.68,264.28 C252.85,264.28 254.60,264.96 255.18,266.03 C255.77,267.10 255.77,269.34 255.18,270.70 C254.60,272.06 252.85,273.43 251.68,274.20 C250.51,274.98 249.15,274.40 248.18,275.37 C247.20,276.35 246.33,278.10 245.84,280.04 C245.35,281.99 245.06,284.72 245.26,287.05 C245.45,289.39 246.13,291.72 247.01,294.06 C247.88,296.39 249.54,299.12 250.51,301.07 C251.48,303.01 251.87,304.57 252.85,305.74 C253.82,306.91 255.77,307.68 256.35,308.07" fill="none" stroke="#EE2626" stroke-width="0.6" stroke-linejoin="round" stroke-linecap="round"/>
<path d="M251.68,274.20 C252.26,275.18 253.82,278.29 255.18,280.04 C256.55,281.80 257.91,283.55 259.85,284.72 C261.80,285.88 265.11,285.88 266.86,287.05 C268.61,288.22 269.59,289.78 270.36,291.72 C271.14,293.67 270.95,296.59 271.53,298.73 C272.12,300.87 272.90,303.01 273.87,304.57 C274.84,306.13 276.01,307.68 277.37,308.07 C278.73,308.46 282.43,306.52 282.04,306.91 C281.65,307.29 277.18,309.44 275.04,310.41 C272.90,311.38 271.14,312.55 269.20,312.74 C267.25,312.94 265.11,312.36 263.36,311.58 C261.61,310.80 259.46,308.66 258.69,308.07" fill="none" stroke="#EE2626" stroke-width="0.6" stroke-linejoin="round" stroke-linecap="round"/>
<path d="M247.01,276.54 C247.40,277.90 248.37,281.99 249.34,284.72 C250.32,287.44 251.29,290.17 252.85,292.89 C254.40,295.62 257.32,298.54 258.69,301.07 C260.05,303.60 260.83,306.13 261.02,308.07 C261.22,310.02 260.05,311.97 259.85,312.74" fill="none" stroke="#EE2626" stroke-width="0.6" stroke-linejoin="round" stroke-linecap="round"/>
<path d="M291.39,291.72 C291.00,292.31 289.93,293.86 289.05,295.23 C288.18,296.59 286.91,298.34 286.13,299.90 C285.35,301.45 285.26,303.21 284.38,304.57 C283.50,305.93 281.46,307.49 280.88,308.07" fill="none" stroke="#EE2626" stroke-width="0.6" stroke-linejoin="round" stroke-linecap="round"/>
<path d="M290.22,292.89 C289.83,293.86 288.47,296.98 287.88,298.73 C287.30,300.48 286.13,303.40 286.72,303.40 C287.30,303.40 290.51,300.48 291.39,298.73 C292.26,296.98 291.87,293.86 291.97,292.89" fill="none" stroke="#EE2626" stroke-width="0.6" stroke-linejoin="round" stroke-linecap="round"/>
<path d="M252.85,305.74 C254.60,306.13 259.66,306.91 263.36,308.07 C267.06,309.24 271.14,312.36 275.04,312.74 C278.93,313.13 282.82,311.38 286.72,310.41 C290.61,309.44 296.45,307.49 298.39,306.91" fill="none" stroke="#EE2626" stroke-width="0.6" stroke-linejoin="round" stroke-linecap="round"/>
<path d="M283.65,304.57 C283.47,304.89 283.13,305.94 282.55,306.51 C281.98,307.08 281.12,307.79 280.20,307.98 C279.28,308.18 278.02,307.90 277.03,307.67 C276.04,307.45 274.87,307.16 274.26,306.64 C273.66,306.12 273.34,305.23 273.40,304.57 C273.45,303.91 274.00,303.21 274.59,302.66 C275.18,302.10 276.01,301.43 276.91,301.23 C277.82,301.04 279.07,301.27 280.04,301.48 C281.02,301.70 282.18,302.02 282.75,302.53 C283.31,303.05 283.47,303.91 283.43,304.57 C283.40,305.23 283.06,305.95 282.51,306.49 C281.97,307.04 281.09,307.60 280.14,307.86 C279.20,308.12 277.76,308.30 276.83,308.08 C275.90,307.85 275.10,307.09 274.54,306.50 C273.99,305.92 273.69,304.89 273.52,304.57" fill="none" stroke="#EE2626" stroke-width="0.6" stroke-linejoin="round" stroke-linecap="round"/>
<path d="M283.70,308.24 C283.60,308.60 284.30,309.95 283.12,310.39 C281.93,310.83 278.78,310.76 276.59,310.87 C274.39,310.99 272.12,311.33 269.94,311.11 C267.77,310.88 265.42,310.11 263.53,309.54 C261.63,308.97 259.95,308.38 258.58,307.69 C257.21,307.00 255.23,306.04 255.31,305.39 C255.38,304.75 257.66,304.28 259.04,303.81 C260.43,303.34 261.64,302.75 263.60,302.59 C265.55,302.43 268.43,302.61 270.77,302.86 C273.11,303.12 275.66,303.57 277.64,304.10 C279.61,304.64 281.64,305.40 282.64,306.08 C283.63,306.77 283.58,307.53 283.62,308.24 C283.66,308.94 284.04,309.89 282.87,310.32 C281.69,310.76 277.60,310.76 276.55,310.85" fill="none" stroke="#EE2626" stroke-width="0.6" stroke-linejoin="round" stroke-linecap="round"/>
<path d="M372.1,279.5 L345.23,252.63 A38.0,38.0 0 0 1 398.97,252.63 Z" fill="#B1D7D7"/>
<path d="M372.1,279.5 L398.97,252.63 A38.0,38.0 0 0 1 398.97,306.37 Z" fill="#A3A3A3"/>
<path d="M372.1,279.5 L398.97,306.37 A38.0,38.0 0 0 1 345.23,306.37 Z" fill="#DE88B3"/>
<path d="M372.1,279.5 L345.23,306.37 A38.0,38.0 0 0 1 345.23,252.63 Z" fill="#A3BB8D"/>
<circle cx="372.90" cy="304.80" r="4.2" fill="#E6E07A"/>
<path d="M346.01,287.05 C346.11,285.30 345.82,279.85 346.60,276.54 C347.38,273.23 348.84,270.12 350.69,267.20 C352.54,264.28 355.16,261.55 357.69,259.02 C360.22,256.49 363.14,253.57 365.87,252.01 C368.59,250.46 371.51,249.68 374.04,249.68 C376.57,249.68 379.10,250.46 381.05,252.01 C383.00,253.57 384.17,257.08 385.72,259.02 C387.28,260.97 388.45,262.14 390.39,263.69 C392.34,265.25 395.07,267.39 397.40,268.36 C399.74,269.34 402.66,268.56 404.41,269.53 C406.16,270.51 407.33,271.67 407.91,274.20 C408.50,276.73 408.11,281.60 407.91,284.72 C407.72,287.83 407.52,290.36 406.74,292.89 C405.97,295.42 404.60,297.76 403.24,299.90 C401.88,302.04 400.52,303.99 398.57,305.74 C396.62,307.49 394.29,309.24 391.56,310.41 C388.84,311.58 385.33,312.36 382.22,312.74 C379.10,313.13 375.80,312.94 372.88,312.74 C369.96,312.55 366.06,311.77 364.70,311.58" fill="none" stroke="#EE2626" stroke-width="0.6" stroke-linejoin="round" stroke-linecap="round"/>
<path d="M341.34,290.55 C341.54,289.97 341.54,287.93 342.51,287.05 C343.48,286.18 345.43,285.49 347.18,285.30 C348.93,285.10 350.88,285.40 353.02,285.88 C355.16,286.37 357.69,287.05 360.03,288.22 C362.36,289.39 364.31,291.53 367.04,292.89 C369.76,294.25 373.65,295.23 376.38,296.39 C379.10,297.56 382.22,298.54 383.39,299.90 C384.55,301.26 384.17,303.21 383.39,304.57 C382.61,305.93 380.86,307.29 378.72,308.07 C376.57,308.85 373.27,309.44 370.54,309.24 C367.82,309.05 364.90,307.88 362.36,306.91 C359.83,305.93 357.30,304.76 355.36,303.40 C353.41,302.04 352.24,300.09 350.69,298.73 C349.13,297.37 347.57,296.39 346.01,295.23 C344.46,294.06 342.12,292.31 341.34,291.72" fill="none" stroke="#EE2626" stroke-width="0.6" stroke-linejoin="round" stroke-linecap="round"/>
<path d="M343.68,289.39 C344.65,289.00 346.99,287.05 349.52,287.05 C352.05,287.05 355.94,288.22 358.86,289.39 C361.78,290.55 364.51,292.70 367.04,294.06 C369.57,295.42 371.71,296.39 374.04,297.56 C376.38,298.73 380.27,299.70 381.05,301.07 C381.83,302.43 380.27,304.57 378.72,305.74 C377.16,306.91 374.24,308.07 371.71,308.07 C369.18,308.07 366.06,306.91 363.53,305.74 C361.00,304.57 358.47,302.62 356.53,301.07 C354.58,299.51 353.02,297.76 351.85,296.39 C350.69,295.03 349.32,293.86 349.52,292.89 C349.71,291.92 352.44,290.94 353.02,290.55" fill="none" stroke="#EE2626" stroke-width="0.6" stroke-linejoin="round" stroke-linecap="round"/>
<path d="M354.19,292.89 C354.38,292.60 354.97,290.75 355.36,291.14 C355.75,291.53 356.14,293.96 356.53,295.23 C356.91,296.49 356.72,297.37 357.69,298.73 C358.67,300.09 360.81,302.04 362.36,303.40 C363.92,304.76 365.28,305.93 367.04,306.91 C368.79,307.88 371.12,309.24 372.88,309.24 C374.63,309.24 376.57,307.88 377.55,306.91 C378.52,305.93 379.10,304.57 378.72,303.40 C378.33,302.23 376.77,300.68 375.21,299.90 C373.65,299.12 371.32,298.54 369.37,298.73 C367.43,298.92 364.51,300.68 363.53,301.07" fill="none" stroke="#EE2626" stroke-width="0.6" stroke-linejoin="round" stroke-linecap="round"/>
<path d="M340.18,291.72 C341.15,292.50 344.07,294.84 346.01,296.39 C347.96,297.95 350.10,299.70 351.85,301.07 C353.61,302.43 354.97,303.40 356.53,304.57 C358.08,305.74 359.45,307.10 361.20,308.07 C362.95,309.05 366.06,310.02 367.04,310.41" fill="none" stroke="#EE2626" stroke-width="0.6" stroke-linejoin="round" stroke-linecap="round"/>
<path d="M384.49,307.44 C383.99,307.78 382.99,309.15 381.51,309.52 C380.02,309.89 377.71,309.70 375.58,309.68 C373.44,309.65 371.07,310.04 368.69,309.37 C366.31,308.70 363.70,306.86 361.28,305.66 C358.87,304.47 356.24,303.50 354.21,302.22 C352.18,300.93 349.70,299.15 349.10,297.96 C348.51,296.77 350.16,296.02 350.66,295.09 C351.17,294.15 350.95,292.92 352.14,292.36 C353.33,291.81 355.56,291.51 357.80,291.75 C360.04,291.99 363.03,293.06 365.59,293.80 C368.15,294.53 370.72,295.16 373.16,296.17 C375.61,297.18 378.51,298.58 380.28,299.88 C382.04,301.18 382.94,302.66 383.76,303.96 C384.59,305.26 385.68,306.83 385.22,307.70 C384.76,308.58 382.58,308.87 381.00,309.22 C379.42,309.57 377.80,309.96 375.72,309.82 C373.64,309.69 370.99,309.05 368.50,308.42 C366.01,307.79 363.31,307.08 360.78,306.06 C358.26,305.04 355.15,303.62 353.34,302.30 C351.54,300.97 350.71,299.43 349.94,298.11 C349.16,296.79 348.92,295.00 348.71,294.38" fill="none" stroke="#EE2626" stroke-width="0.6" stroke-linejoin="round" stroke-linecap="round"/>
<path d="M382.95,307.24 C382.51,307.56 381.54,308.72 380.28,309.13 C379.02,309.55 377.26,309.88 375.39,309.73 C373.52,309.57 371.18,308.81 369.06,308.19 C366.94,307.56 364.44,306.91 362.68,305.97 C360.93,305.04 359.33,303.66 358.54,302.58 C357.76,301.51 357.52,300.29 357.97,299.51 C358.41,298.73 359.93,298.31 361.22,297.92 C362.52,297.52 363.93,297.03 365.73,297.13 C367.54,297.23 370.05,297.87 372.05,298.52 C374.05,299.17 375.94,300.10 377.72,301.05 C379.51,302.00 381.76,303.16 382.77,304.24 C383.78,305.31 384.30,306.74 383.79,307.50 C383.27,308.26 381.04,308.36 379.67,308.78 C378.31,309.20 377.39,310.05 375.61,310.01 C373.82,309.96 371.03,309.21 368.96,308.51 C366.89,307.80 364.77,306.78 363.20,305.80 C361.63,304.83 360.41,303.70 359.53,302.65 C358.65,301.60 358.19,300.02 357.92,299.50" fill="none" stroke="#EE2626" stroke-width="0.6" stroke-linejoin="round" stroke-linecap="round"/>
<path d="M380.35,306.29 C379.93,306.61 379.07,307.80 377.82,308.19 C376.58,308.58 374.93,308.99 372.87,308.63 C370.81,308.27 367.88,307.02 365.48,306.02 C363.08,305.03 360.62,303.93 358.46,302.68 C356.30,301.42 353.91,299.85 352.51,298.50 C351.11,297.15 350.66,295.83 350.05,294.59 C349.45,293.36 348.67,292.00 348.90,291.10 C349.13,290.19 350.13,289.51 351.43,289.16 C352.73,288.81 354.60,288.57 356.69,289.02 C358.78,289.47 361.62,290.89 363.97,291.87 C366.31,292.85 368.74,293.73 370.74,294.91 C372.73,296.09 374.24,297.55 375.93,298.94 C377.62,300.34 380.05,302.03 380.89,303.30 C381.73,304.58 381.65,305.90 380.96,306.59 C380.27,307.27 378.08,307.06 376.75,307.42 C375.41,307.77 373.58,308.50 372.94,308.72" fill="none" stroke="#EE2626" stroke-width="0.6" stroke-linejoin="round" stroke-linecap="round"/>
<text x="462.65" y="193.80" font-size="18" fill="#1a1a1a" textLength="13.11" lengthAdjust="spacingAndGlyphs" >D</text>
<line x1="521.50" y1="193.94" x2="521.50" y2="333.90" stroke="#4d4d4d" stroke-width="1.1" />
<line x1="518.00" y1="333.40" x2="660.80" y2="333.40" stroke="#4d4d4d" stroke-width="1.1" />
<line x1="518.00" y1="333.40" x2="521.50" y2="333.40" stroke="#4d4d4d" stroke-width="1" />
<text x="509.92" y="337.50" font-size="11.5" fill="#1a1a1a">0</text>
<line x1="518.00" y1="298.66" x2="521.50" y2="298.66" stroke="#4d4d4d" stroke-width="1" />
<text x="509.98" y="302.76" font-size="11.5" fill="#1a1a1a">3</text>
<line x1="518.00" y1="263.92" x2="521.50" y2="263.92" stroke="#4d4d4d" stroke-width="1" />
<text x="509.98" y="268.02" font-size="11.5" fill="#1a1a1a">6</text>
<line x1="518.00" y1="229.18" x2="521.50" y2="229.18" stroke="#4d4d4d" stroke-width="1" />
<text x="510.03" y="233.28" font-size="11.5" fill="#1a1a1a">9</text>
<line x1="518.00" y1="194.44" x2="521.50" y2="194.44" stroke="#4d4d4d" stroke-width="1" />
<text x="503.71" y="198.54" font-size="11.5" fill="#1a1a1a">12</text>
<text x="0" y="0" font-size="14" fill="#1a1a1a" textLength="135.78" lengthAdjust="spacingAndGlyphs" transform="translate(496.00,325.62) rotate(-90)">Frequency to platform</text>
<rect x="527.35" y="264.73" width="23.00" height="68.67" fill="#ffffff" stroke="#2e2e2e" stroke-width="1" />
<rect x="561.95" y="314.06" width="23.00" height="19.34" fill="#EE8A58" stroke="#2e2e2e" stroke-width="1" />
<rect x="596.75" y="298.66" width="23.00" height="34.74" fill="#CA9D5A" stroke="#2e2e2e" stroke-width="1" />
<rect x="631.50" y="282.68" width="23.00" height="50.72" fill="#217B8B" stroke="#2e2e2e" stroke-width="1" />
<circle cx="538.85" cy="217.60" r="1.6" fill="#111"/>
<circle cx="533.95" cy="229.18" r="1.6" fill="#111"/>
<circle cx="538.85" cy="229.18" r="1.6" fill="#111"/>
<circle cx="543.75" cy="229.18" r="1.6" fill="#111"/>
<circle cx="538.85" cy="240.76" r="1.6" fill="#111"/>
<circle cx="538.85" cy="252.34" r="1.6" fill="#111"/>
<circle cx="533.95" cy="263.92" r="1.6" fill="#111"/>
<circle cx="538.85" cy="263.92" r="1.6" fill="#111"/>
<circle cx="543.75" cy="263.92" r="1.6" fill="#111"/>
<circle cx="536.40" cy="275.50" r="1.6" fill="#111"/>
<circle cx="541.30" cy="275.50" r="1.6" fill="#111"/>
<circle cx="538.85" cy="287.08" r="1.6" fill="#111"/>
<circle cx="538.85" cy="298.66" r="1.6" fill="#111"/>
<circle cx="536.40" cy="321.82" r="1.6" fill="#111"/>
<circle cx="541.30" cy="321.82" r="1.6" fill="#111"/>
<line x1="538.85" y1="256.10" x2="538.85" y2="273.40" stroke="#2a2a2a" stroke-width="1" />
<line x1="533.35" y1="256.10" x2="544.35" y2="256.10" stroke="#2a2a2a" stroke-width="1" />
<line x1="533.35" y1="273.40" x2="544.35" y2="273.40" stroke="#2a2a2a" stroke-width="1" />
<circle cx="571.00" cy="287.08" r="1.6" fill="#111"/>
<circle cx="575.90" cy="287.08" r="1.6" fill="#111"/>
<circle cx="573.45" cy="298.66" r="1.6" fill="#111"/>
<circle cx="563.65" cy="310.24" r="1.6" fill="#111"/>
<circle cx="568.55" cy="310.24" r="1.6" fill="#111"/>
<circle cx="573.45" cy="310.24" r="1.6" fill="#111"/>
<circle cx="578.35" cy="310.24" r="1.6" fill="#111"/>
<circle cx="583.25" cy="310.24" r="1.6" fill="#111"/>
<circle cx="566.10" cy="321.82" r="1.6" fill="#111"/>
<circle cx="571.00" cy="321.82" r="1.6" fill="#111"/>
<circle cx="575.90" cy="321.82" r="1.6" fill="#111"/>
<circle cx="580.80" cy="321.82" r="1.6" fill="#111"/>
<circle cx="568.55" cy="333.40" r="1.6" fill="#111"/>
<circle cx="573.45" cy="333.40" r="1.6" fill="#111"/>
<circle cx="578.35" cy="333.40" r="1.6" fill="#111"/>
<line x1="573.45" y1="310.70" x2="573.45" y2="318.30" stroke="#2a2a2a" stroke-width="1" />
<line x1="567.95" y1="310.70" x2="578.95" y2="310.70" stroke="#2a2a2a" stroke-width="1" />
<line x1="567.95" y1="318.30" x2="578.95" y2="318.30" stroke="#2a2a2a" stroke-width="1" />
<circle cx="605.80" cy="263.92" r="1.6" fill="#111"/>
<circle cx="610.70" cy="263.92" r="1.6" fill="#111"/>
<circle cx="603.35" cy="275.50" r="1.6" fill="#111"/>
<circle cx="608.25" cy="275.50" r="1.6" fill="#111"/>
<circle cx="613.15" cy="275.50" r="1.6" fill="#111"/>
<circle cx="608.25" cy="287.08" r="1.6" fill="#111"/>
<circle cx="603.35" cy="298.66" r="1.6" fill="#111"/>
<circle cx="608.25" cy="298.66" r="1.6" fill="#111"/>
<circle cx="613.15" cy="298.66" r="1.6" fill="#111"/>
<circle cx="600.90" cy="310.24" r="1.6" fill="#111"/>
<circle cx="605.80" cy="310.24" r="1.6" fill="#111"/>
<circle cx="610.70" cy="310.24" r="1.6" fill="#111"/>
<circle cx="615.60" cy="310.24" r="1.6" fill="#111"/>
<circle cx="603.35" cy="321.82" r="1.6" fill="#111"/>
<circle cx="608.25" cy="321.82" r="1.6" fill="#111"/>
<circle cx="613.15" cy="321.82" r="1.6" fill="#111"/>
<circle cx="608.25" cy="333.40" r="1.6" fill="#111"/>
<line x1="608.25" y1="293.30" x2="608.25" y2="304.40" stroke="#2a2a2a" stroke-width="1" />
<line x1="602.75" y1="293.30" x2="613.75" y2="293.30" stroke="#2a2a2a" stroke-width="1" />
<line x1="602.75" y1="304.40" x2="613.75" y2="304.40" stroke="#2a2a2a" stroke-width="1" />
<circle cx="643.00" cy="194.44" r="1.6" fill="#111"/>
<circle cx="638.10" cy="263.92" r="1.6" fill="#111"/>
<circle cx="643.00" cy="263.92" r="1.6" fill="#111"/>
<circle cx="647.90" cy="263.92" r="1.6" fill="#111"/>
<circle cx="640.55" cy="275.50" r="1.6" fill="#111"/>
<circle cx="645.45" cy="275.50" r="1.6" fill="#111"/>
<circle cx="640.55" cy="287.08" r="1.6" fill="#111"/>
<circle cx="645.45" cy="287.08" r="1.6" fill="#111"/>
<circle cx="643.00" cy="298.66" r="1.6" fill="#111"/>
<circle cx="638.10" cy="310.24" r="1.6" fill="#111"/>
<circle cx="643.00" cy="310.24" r="1.6" fill="#111"/>
<circle cx="647.90" cy="310.24" r="1.6" fill="#111"/>
<circle cx="643.00" cy="333.40" r="1.6" fill="#111"/>
<line x1="643.00" y1="273.20" x2="643.00" y2="292.30" stroke="#2a2a2a" stroke-width="1" />
<line x1="637.50" y1="273.20" x2="648.50" y2="273.20" stroke="#2a2a2a" stroke-width="1" />
<line x1="637.50" y1="292.30" x2="648.50" y2="292.30" stroke="#2a2a2a" stroke-width="1" />
<line x1="538.85" y1="333.40" x2="538.85" y2="336.60" stroke="#4d4d4d" stroke-width="1" />
<line x1="573.45" y1="333.40" x2="573.45" y2="336.60" stroke="#4d4d4d" stroke-width="1" />
<line x1="608.25" y1="333.40" x2="608.25" y2="336.60" stroke="#4d4d4d" stroke-width="1" />
<line x1="643.00" y1="333.40" x2="643.00" y2="336.60" stroke="#4d4d4d" stroke-width="1" />
<line x1="538.20" y1="203.10" x2="573.40" y2="203.10" stroke="#8a8a8a" stroke-width="1.2" />
<text x="548.01" y="203.50" font-size="14" fill="#1a1a1a" class="st">***</text>
<line x1="573.00" y1="241.60" x2="643.00" y2="241.60" stroke="#8a8a8a" stroke-width="1.2" />
<text x="603.87" y="242.40" font-size="14" fill="#1a1a1a" class="st">*</text>
<text x="528.93" y="348.70" font-size="14.2" fill="#1a1a1a" textLength="25.11" lengthAdjust="spacingAndGlyphs" >Veh</text>
<text x="562.23" y="348.70" font-size="14.2" fill="#1a1a1a" textLength="24.69" lengthAdjust="spacingAndGlyphs" >Veh</text>
<text x="596.15" y="348.70" font-size="14.2" fill="#1a1a1a" textLength="29.61" lengthAdjust="spacingAndGlyphs" >Daid</text>
<text x="633.60" y="348.70" font-size="14.2" fill="#1a1a1a" textLength="22.53" lengthAdjust="spacingAndGlyphs" >Chr</text>
<line x1="528.00" y1="356.00" x2="551.30" y2="356.00" stroke="#8a8a8a" stroke-width="1.4" />
<line x1="564.00" y1="356.00" x2="651.70" y2="356.00" stroke="#8a8a8a" stroke-width="1.4" />
<text x="530.53" y="370.60" font-size="14.2" fill="#1a1a1a" textLength="22.56" lengthAdjust="spacingAndGlyphs" >WT</text>
<text x="581.90" y="370.60" font-size="14.2" fill="#1a1a1a" textLength="55.99" lengthAdjust="spacingAndGlyphs" >APP/PS1</text>
<text x="1.68" y="375.90" font-size="16" fill="#1a1a1a" textLength="11.87" lengthAdjust="spacingAndGlyphs" >E</text>
<line x1="51.40" y1="366.80" x2="51.40" y2="535.50" stroke="#4d4d4d" stroke-width="1.1" />
<line x1="46.00" y1="535.00" x2="435.10" y2="535.00" stroke="#8f8f8f" stroke-width="1.3" />
<line x1="46.00" y1="535.00" x2="51.40" y2="535.00" stroke="#4d4d4d" stroke-width="1" />
<text x="37.66" y="539.30" font-size="12" fill="#1a1a1a">0</text>
<line x1="46.00" y1="479.10" x2="51.40" y2="479.10" stroke="#4d4d4d" stroke-width="1" />
<text x="31.00" y="483.40" font-size="12" fill="#1a1a1a">20</text>
<line x1="46.00" y1="423.20" x2="51.40" y2="423.20" stroke="#4d4d4d" stroke-width="1" />
<text x="31.00" y="427.50" font-size="12" fill="#1a1a1a">40</text>
<line x1="46.00" y1="367.30" x2="51.40" y2="367.30" stroke="#4d4d4d" stroke-width="1" />
<text x="31.00" y="371.60" font-size="12" fill="#1a1a1a">60</text>
<text x="0" y="0" font-size="14.3" fill="#1a1a1a" textLength="124.23" lengthAdjust="spacingAndGlyphs" transform="translate(24.00,501.28) rotate(-90)">Time in quadrant (s)</text>
<rect x="59.25" y="444.16" width="15.40" height="90.84" fill="#ffffff" stroke="#2e2e2e" stroke-width="0.9" />
<rect x="79.45" y="479.66" width="15.40" height="55.34" fill="#EE8A58" stroke="#2e2e2e" stroke-width="0.9" />
<rect x="99.85" y="465.96" width="15.40" height="69.04" fill="#CA9D5A" stroke="#2e2e2e" stroke-width="0.9" />
<rect x="120.05" y="447.24" width="15.40" height="87.76" fill="#217B8B" stroke="#2e2e2e" stroke-width="0.9" />
<rect x="156.35" y="510.12" width="15.40" height="24.88" fill="#ffffff" stroke="#2e2e2e" stroke-width="0.9" />
<rect x="176.55" y="489.72" width="15.40" height="45.28" fill="#EE8A58" stroke="#2e2e2e" stroke-width="0.9" />
<rect x="196.95" y="480.50" width="15.40" height="54.50" fill="#CA9D5A" stroke="#2e2e2e" stroke-width="0.9" />
<rect x="217.15" y="500.34" width="15.40" height="34.66" fill="#217B8B" stroke="#2e2e2e" stroke-width="0.9" />
<rect x="253.35" y="517.95" width="15.40" height="17.05" fill="#ffffff" stroke="#2e2e2e" stroke-width="0.9" />
<rect x="273.55" y="501.74" width="15.40" height="33.26" fill="#EE8A58" stroke="#2e2e2e" stroke-width="0.9" />
<rect x="293.95" y="522.42" width="15.40" height="12.58" fill="#CA9D5A" stroke="#2e2e2e" stroke-width="0.9" />
<rect x="314.15" y="523.82" width="15.40" height="11.18" fill="#217B8B" stroke="#2e2e2e" stroke-width="0.9" />
<rect x="350.35" y="500.34" width="15.40" height="34.66" fill="#ffffff" stroke="#2e2e2e" stroke-width="0.9" />
<rect x="370.55" y="502.02" width="15.40" height="32.98" fill="#EE8A58" stroke="#2e2e2e" stroke-width="0.9" />
<rect x="390.95" y="504.25" width="15.40" height="30.75" fill="#CA9D5A" stroke="#2e2e2e" stroke-width="0.9" />
<rect x="411.15" y="501.74" width="15.40" height="33.26" fill="#217B8B" stroke="#2e2e2e" stroke-width="0.9" />
<circle cx="66.95" cy="408.95" r="1.45" fill="#111"/>
<circle cx="66.95" cy="412.02" r="1.45" fill="#111"/>
<circle cx="64.45" cy="422.92" r="1.45" fill="#111"/>
<circle cx="69.45" cy="422.92" r="1.45" fill="#111"/>
<circle cx="64.45" cy="426.55" r="1.45" fill="#111"/>
<circle cx="69.45" cy="426.55" r="1.45" fill="#111"/>
<circle cx="64.45" cy="429.91" r="1.45" fill="#111"/>
<circle cx="64.45" cy="433.26" r="1.45" fill="#111"/>
<circle cx="69.45" cy="433.26" r="1.45" fill="#111"/>
<circle cx="66.95" cy="436.34" r="1.45" fill="#111"/>
<circle cx="66.95" cy="445.56" r="1.45" fill="#111"/>
<circle cx="66.95" cy="458.70" r="1.45" fill="#111"/>
<circle cx="66.95" cy="462.89" r="1.45" fill="#111"/>
<circle cx="66.95" cy="478.82" r="1.45" fill="#111"/>
<circle cx="64.45" cy="491.68" r="1.45" fill="#111"/>
<circle cx="69.45" cy="491.68" r="1.45" fill="#111"/>
<line x1="66.95" y1="438.00" x2="66.95" y2="451.00" stroke="#2a2a2a" stroke-width="0.9" />
<line x1="62.45" y1="438.00" x2="71.45" y2="438.00" stroke="#2a2a2a" stroke-width="0.9" />
<line x1="62.45" y1="451.00" x2="71.45" y2="451.00" stroke="#2a2a2a" stroke-width="0.9" />
<circle cx="87.15" cy="426.55" r="1.45" fill="#111"/>
<circle cx="87.15" cy="429.91" r="1.45" fill="#111"/>
<circle cx="87.15" cy="435.78" r="1.45" fill="#111"/>
<circle cx="82.15" cy="469.32" r="1.45" fill="#111"/>
<circle cx="87.15" cy="469.32" r="1.45" fill="#111"/>
<circle cx="92.15" cy="469.32" r="1.45" fill="#111"/>
<circle cx="85.90" cy="477.70" r="1.45" fill="#111"/>
<circle cx="88.40" cy="477.70" r="1.45" fill="#111"/>
<circle cx="87.15" cy="480.50" r="1.45" fill="#111"/>
<circle cx="82.15" cy="494.47" r="1.45" fill="#111"/>
<circle cx="87.15" cy="494.47" r="1.45" fill="#111"/>
<circle cx="92.15" cy="494.47" r="1.45" fill="#111"/>
<circle cx="87.15" cy="511.80" r="1.45" fill="#111"/>
<circle cx="87.15" cy="526.34" r="1.45" fill="#111"/>
<circle cx="87.15" cy="535.00" r="1.45" fill="#111"/>
<line x1="87.15" y1="471.00" x2="87.15" y2="488.00" stroke="#2a2a2a" stroke-width="0.9" />
<line x1="82.65" y1="471.00" x2="91.65" y2="471.00" stroke="#2a2a2a" stroke-width="0.9" />
<line x1="82.65" y1="488.00" x2="91.65" y2="488.00" stroke="#2a2a2a" stroke-width="0.9" />
<circle cx="107.55" cy="413.70" r="1.45" fill="#111"/>
<circle cx="107.55" cy="422.08" r="1.45" fill="#111"/>
<circle cx="107.55" cy="427.11" r="1.45" fill="#111"/>
<circle cx="107.55" cy="436.06" r="1.45" fill="#111"/>
<circle cx="107.55" cy="442.76" r="1.45" fill="#111"/>
<circle cx="107.55" cy="455.06" r="1.45" fill="#111"/>
<circle cx="112.55" cy="455.06" r="1.45" fill="#111"/>
<circle cx="107.55" cy="466.52" r="1.45" fill="#111"/>
<circle cx="107.55" cy="469.88" r="1.45" fill="#111"/>
<circle cx="107.55" cy="472.95" r="1.45" fill="#111"/>
<circle cx="102.55" cy="489.16" r="1.45" fill="#111"/>
<circle cx="107.55" cy="489.16" r="1.45" fill="#111"/>
<circle cx="112.55" cy="489.16" r="1.45" fill="#111"/>
<circle cx="107.55" cy="496.43" r="1.45" fill="#111"/>
<circle cx="112.55" cy="496.43" r="1.45" fill="#111"/>
<circle cx="102.55" cy="498.67" r="1.45" fill="#111"/>
<circle cx="112.55" cy="498.67" r="1.45" fill="#111"/>
<line x1="107.55" y1="458.20" x2="107.55" y2="472.60" stroke="#2a2a2a" stroke-width="0.9" />
<line x1="103.05" y1="458.20" x2="112.05" y2="458.20" stroke="#2a2a2a" stroke-width="0.9" />
<line x1="103.05" y1="472.60" x2="112.05" y2="472.60" stroke="#2a2a2a" stroke-width="0.9" />
<circle cx="129.00" cy="418.45" r="1.45" fill="#111"/>
<circle cx="125.25" cy="421.80" r="1.45" fill="#111"/>
<circle cx="130.25" cy="421.80" r="1.45" fill="#111"/>
<circle cx="127.75" cy="426.55" r="1.45" fill="#111"/>
<circle cx="127.75" cy="429.07" r="1.45" fill="#111"/>
<circle cx="125.25" cy="432.42" r="1.45" fill="#111"/>
<circle cx="130.25" cy="432.42" r="1.45" fill="#111"/>
<circle cx="127.75" cy="453.39" r="1.45" fill="#111"/>
<circle cx="127.75" cy="457.86" r="1.45" fill="#111"/>
<circle cx="127.75" cy="465.40" r="1.45" fill="#111"/>
<circle cx="127.75" cy="475.19" r="1.45" fill="#111"/>
<circle cx="127.75" cy="484.97" r="1.45" fill="#111"/>
<circle cx="127.75" cy="491.12" r="1.45" fill="#111"/>
<line x1="127.75" y1="439.60" x2="127.75" y2="454.00" stroke="#2a2a2a" stroke-width="0.9" />
<line x1="123.25" y1="439.60" x2="132.25" y2="439.60" stroke="#2a2a2a" stroke-width="0.9" />
<line x1="123.25" y1="454.00" x2="132.25" y2="454.00" stroke="#2a2a2a" stroke-width="0.9" />
<line x1="97.35" y1="535.00" x2="97.35" y2="538.90" stroke="#4d4d4d" stroke-width="1" />
<circle cx="164.05" cy="485.25" r="1.45" fill="#111"/>
<circle cx="159.05" cy="492.52" r="1.45" fill="#111"/>
<circle cx="164.05" cy="495.03" r="1.45" fill="#111"/>
<circle cx="159.05" cy="503.14" r="1.45" fill="#111"/>
<circle cx="169.05" cy="503.14" r="1.45" fill="#111"/>
<circle cx="164.05" cy="505.65" r="1.45" fill="#111"/>
<circle cx="164.05" cy="509.57" r="1.45" fill="#111"/>
<circle cx="159.05" cy="515.16" r="1.45" fill="#111"/>
<circle cx="169.05" cy="515.16" r="1.45" fill="#111"/>
<circle cx="164.05" cy="517.39" r="1.45" fill="#111"/>
<circle cx="159.05" cy="520.19" r="1.45" fill="#111"/>
<circle cx="169.05" cy="520.19" r="1.45" fill="#111"/>
<circle cx="164.05" cy="525.22" r="1.45" fill="#111"/>
<circle cx="164.05" cy="528.01" r="1.45" fill="#111"/>
<line x1="164.05" y1="505.00" x2="164.05" y2="514.50" stroke="#2a2a2a" stroke-width="0.9" />
<line x1="159.55" y1="505.00" x2="168.55" y2="505.00" stroke="#2a2a2a" stroke-width="0.9" />
<line x1="159.55" y1="514.50" x2="168.55" y2="514.50" stroke="#2a2a2a" stroke-width="0.9" />
<circle cx="184.25" cy="389.38" r="1.45" fill="#111"/>
<circle cx="184.25" cy="465.12" r="1.45" fill="#111"/>
<circle cx="184.25" cy="474.63" r="1.45" fill="#111"/>
<circle cx="184.25" cy="478.54" r="1.45" fill="#111"/>
<circle cx="178.50" cy="491.12" r="1.45" fill="#111"/>
<circle cx="184.25" cy="491.12" r="1.45" fill="#111"/>
<circle cx="190.00" cy="491.12" r="1.45" fill="#111"/>
<circle cx="178.50" cy="492.24" r="1.45" fill="#111"/>
<circle cx="190.00" cy="492.24" r="1.45" fill="#111"/>
<circle cx="184.25" cy="495.87" r="1.45" fill="#111"/>
<circle cx="184.25" cy="503.70" r="1.45" fill="#111"/>
<circle cx="179.25" cy="514.32" r="1.45" fill="#111"/>
<circle cx="184.25" cy="517.39" r="1.45" fill="#111"/>
<circle cx="189.25" cy="515.71" r="1.45" fill="#111"/>
<circle cx="184.25" cy="525.78" r="1.45" fill="#111"/>
<line x1="184.25" y1="480.90" x2="184.25" y2="496.90" stroke="#2a2a2a" stroke-width="0.9" />
<line x1="179.75" y1="480.90" x2="188.75" y2="480.90" stroke="#2a2a2a" stroke-width="0.9" />
<line x1="179.75" y1="496.90" x2="188.75" y2="496.90" stroke="#2a2a2a" stroke-width="0.9" />
<circle cx="204.65" cy="419.85" r="1.45" fill="#111"/>
<circle cx="204.65" cy="444.16" r="1.45" fill="#111"/>
<circle cx="204.65" cy="447.52" r="1.45" fill="#111"/>
<circle cx="202.15" cy="460.09" r="1.45" fill="#111"/>
<circle cx="207.15" cy="460.09" r="1.45" fill="#111"/>
<circle cx="207.15" cy="464.85" r="1.45" fill="#111"/>
<circle cx="202.15" cy="465.68" r="1.45" fill="#111"/>
<circle cx="204.65" cy="475.75" r="1.45" fill="#111"/>
<circle cx="202.15" cy="487.49" r="1.45" fill="#111"/>
<circle cx="207.15" cy="487.49" r="1.45" fill="#111"/>
<circle cx="204.65" cy="494.19" r="1.45" fill="#111"/>
<circle cx="204.65" cy="498.11" r="1.45" fill="#111"/>
<circle cx="204.65" cy="500.90" r="1.45" fill="#111"/>
<circle cx="202.15" cy="529.13" r="1.45" fill="#111"/>
<circle cx="207.15" cy="529.13" r="1.45" fill="#111"/>
<circle cx="204.65" cy="535.00" r="1.45" fill="#111"/>
<line x1="204.65" y1="472.10" x2="204.65" y2="487.10" stroke="#2a2a2a" stroke-width="0.9" />
<line x1="200.15" y1="472.10" x2="209.15" y2="472.10" stroke="#2a2a2a" stroke-width="0.9" />
<line x1="200.15" y1="487.10" x2="209.15" y2="487.10" stroke="#2a2a2a" stroke-width="0.9" />
<circle cx="224.85" cy="426.27" r="1.45" fill="#111"/>
<circle cx="224.85" cy="479.10" r="1.45" fill="#111"/>
<circle cx="224.85" cy="483.57" r="1.45" fill="#111"/>
<circle cx="222.35" cy="498.11" r="1.45" fill="#111"/>
<circle cx="227.35" cy="498.11" r="1.45" fill="#111"/>
<circle cx="224.85" cy="499.22" r="1.45" fill="#111"/>
<circle cx="222.35" cy="509.57" r="1.45" fill="#111"/>
<circle cx="227.35" cy="509.57" r="1.45" fill="#111"/>
<circle cx="222.35" cy="513.48" r="1.45" fill="#111"/>
<circle cx="227.35" cy="513.48" r="1.45" fill="#111"/>
<circle cx="222.35" cy="516.55" r="1.45" fill="#111"/>
<circle cx="227.35" cy="516.55" r="1.45" fill="#111"/>
<circle cx="224.85" cy="522.14" r="1.45" fill="#111"/>
<line x1="224.85" y1="492.40" x2="224.85" y2="507.00" stroke="#2a2a2a" stroke-width="0.9" />
<line x1="220.35" y1="492.40" x2="229.35" y2="492.40" stroke="#2a2a2a" stroke-width="0.9" />
<line x1="220.35" y1="507.00" x2="229.35" y2="507.00" stroke="#2a2a2a" stroke-width="0.9" />
<line x1="194.45" y1="535.00" x2="194.45" y2="538.90" stroke="#4d4d4d" stroke-width="1" />
<circle cx="261.05" cy="490.56" r="1.45" fill="#111"/>
<circle cx="261.05" cy="495.59" r="1.45" fill="#111"/>
<circle cx="261.05" cy="504.25" r="1.45" fill="#111"/>
<circle cx="261.05" cy="511.52" r="1.45" fill="#111"/>
<circle cx="267.55" cy="514.32" r="1.45" fill="#111"/>
<circle cx="258.55" cy="515.43" r="1.45" fill="#111"/>
<circle cx="263.55" cy="515.43" r="1.45" fill="#111"/>
<circle cx="261.05" cy="517.11" r="1.45" fill="#111"/>
<circle cx="261.05" cy="521.02" r="1.45" fill="#111"/>
<circle cx="258.55" cy="525.50" r="1.45" fill="#111"/>
<circle cx="263.55" cy="525.50" r="1.45" fill="#111"/>
<circle cx="258.55" cy="529.69" r="1.45" fill="#111"/>
<circle cx="266.05" cy="529.69" r="1.45" fill="#111"/>
<circle cx="254.80" cy="531.09" r="1.45" fill="#111"/>
<circle cx="263.55" cy="531.09" r="1.45" fill="#111"/>
<line x1="261.05" y1="514.40" x2="261.05" y2="522.00" stroke="#2a2a2a" stroke-width="0.9" />
<line x1="256.55" y1="514.40" x2="265.55" y2="514.40" stroke="#2a2a2a" stroke-width="0.9" />
<line x1="256.55" y1="522.00" x2="265.55" y2="522.00" stroke="#2a2a2a" stroke-width="0.9" />
<circle cx="281.25" cy="445.28" r="1.45" fill="#111"/>
<circle cx="281.25" cy="456.46" r="1.45" fill="#111"/>
<circle cx="281.25" cy="475.47" r="1.45" fill="#111"/>
<circle cx="281.25" cy="481.62" r="1.45" fill="#111"/>
<circle cx="278.75" cy="496.15" r="1.45" fill="#111"/>
<circle cx="283.75" cy="496.15" r="1.45" fill="#111"/>
<circle cx="278.75" cy="497.83" r="1.45" fill="#111"/>
<circle cx="278.75" cy="507.61" r="1.45" fill="#111"/>
<circle cx="283.75" cy="507.61" r="1.45" fill="#111"/>
<circle cx="283.75" cy="508.73" r="1.45" fill="#111"/>
<circle cx="278.75" cy="513.76" r="1.45" fill="#111"/>
<circle cx="283.75" cy="515.43" r="1.45" fill="#111"/>
<circle cx="278.75" cy="517.95" r="1.45" fill="#111"/>
<circle cx="283.75" cy="519.91" r="1.45" fill="#111"/>
<circle cx="281.25" cy="522.42" r="1.45" fill="#111"/>
<circle cx="281.25" cy="530.81" r="1.45" fill="#111"/>
<circle cx="281.25" cy="535.00" r="1.45" fill="#111"/>
<line x1="281.25" y1="494.60" x2="281.25" y2="507.00" stroke="#2a2a2a" stroke-width="0.9" />
<line x1="276.75" y1="494.60" x2="285.75" y2="494.60" stroke="#2a2a2a" stroke-width="0.9" />
<line x1="276.75" y1="507.00" x2="285.75" y2="507.00" stroke="#2a2a2a" stroke-width="0.9" />
<circle cx="301.65" cy="494.19" r="1.45" fill="#111"/>
<circle cx="301.65" cy="502.86" r="1.45" fill="#111"/>
<circle cx="298.40" cy="505.37" r="1.45" fill="#111"/>
<circle cx="301.65" cy="507.05" r="1.45" fill="#111"/>
<circle cx="301.65" cy="515.71" r="1.45" fill="#111"/>
<circle cx="298.40" cy="520.19" r="1.45" fill="#111"/>
<circle cx="301.65" cy="521.30" r="1.45" fill="#111"/>
<circle cx="304.90" cy="522.14" r="1.45" fill="#111"/>
<circle cx="298.40" cy="524.10" r="1.45" fill="#111"/>
<circle cx="301.65" cy="524.10" r="1.45" fill="#111"/>
<circle cx="298.40" cy="529.13" r="1.45" fill="#111"/>
<circle cx="304.90" cy="530.25" r="1.45" fill="#111"/>
<circle cx="301.65" cy="531.65" r="1.45" fill="#111"/>
<circle cx="295.15" cy="535.00" r="1.45" fill="#111"/>
<circle cx="298.40" cy="535.00" r="1.45" fill="#111"/>
<circle cx="301.65" cy="535.00" r="1.45" fill="#111"/>
<circle cx="304.90" cy="535.00" r="1.45" fill="#111"/>
<circle cx="308.15" cy="535.00" r="1.45" fill="#111"/>
<line x1="301.65" y1="519.30" x2="301.65" y2="525.50" stroke="#2a2a2a" stroke-width="0.9" />
<line x1="297.15" y1="519.30" x2="306.15" y2="519.30" stroke="#2a2a2a" stroke-width="0.9" />
<line x1="297.15" y1="525.50" x2="306.15" y2="525.50" stroke="#2a2a2a" stroke-width="0.9" />
<circle cx="321.85" cy="500.06" r="1.45" fill="#111"/>
<circle cx="321.85" cy="504.53" r="1.45" fill="#111"/>
<circle cx="324.10" cy="520.47" r="1.45" fill="#111"/>
<circle cx="319.60" cy="521.58" r="1.45" fill="#111"/>
<circle cx="328.60" cy="524.10" r="1.45" fill="#111"/>
<circle cx="315.10" cy="526.06" r="1.45" fill="#111"/>
<circle cx="319.60" cy="526.06" r="1.45" fill="#111"/>
<circle cx="324.10" cy="526.06" r="1.45" fill="#111"/>
<circle cx="319.60" cy="528.85" r="1.45" fill="#111"/>
<circle cx="324.10" cy="528.85" r="1.45" fill="#111"/>
<circle cx="319.60" cy="531.09" r="1.45" fill="#111"/>
<circle cx="319.60" cy="532.21" r="1.45" fill="#111"/>
<circle cx="324.10" cy="532.21" r="1.45" fill="#111"/>
<circle cx="319.60" cy="535.00" r="1.45" fill="#111"/>
<circle cx="324.10" cy="535.00" r="1.45" fill="#111"/>
<line x1="321.85" y1="521.20" x2="321.85" y2="527.00" stroke="#2a2a2a" stroke-width="0.9" />
<line x1="317.35" y1="521.20" x2="326.35" y2="521.20" stroke="#2a2a2a" stroke-width="0.9" />
<line x1="317.35" y1="527.00" x2="326.35" y2="527.00" stroke="#2a2a2a" stroke-width="0.9" />
<line x1="291.45" y1="535.00" x2="291.45" y2="538.90" stroke="#4d4d4d" stroke-width="1" />
<circle cx="358.05" cy="466.24" r="1.45" fill="#111"/>
<circle cx="358.05" cy="472.39" r="1.45" fill="#111"/>
<circle cx="358.05" cy="475.75" r="1.45" fill="#111"/>
<circle cx="358.05" cy="488.04" r="1.45" fill="#111"/>
<circle cx="358.05" cy="494.75" r="1.45" fill="#111"/>
<circle cx="358.05" cy="497.83" r="1.45" fill="#111"/>
<circle cx="358.05" cy="504.25" r="1.45" fill="#111"/>
<circle cx="353.05" cy="505.09" r="1.45" fill="#111"/>
<circle cx="363.05" cy="505.09" r="1.45" fill="#111"/>
<circle cx="358.05" cy="511.24" r="1.45" fill="#111"/>
<circle cx="353.05" cy="512.08" r="1.45" fill="#111"/>
<circle cx="363.05" cy="512.08" r="1.45" fill="#111"/>
<circle cx="358.05" cy="514.60" r="1.45" fill="#111"/>
<circle cx="358.05" cy="518.23" r="1.45" fill="#111"/>
<circle cx="358.05" cy="528.29" r="1.45" fill="#111"/>
<line x1="358.05" y1="495.50" x2="358.05" y2="505.50" stroke="#2a2a2a" stroke-width="0.9" />
<line x1="353.55" y1="495.50" x2="362.55" y2="495.50" stroke="#2a2a2a" stroke-width="0.9" />
<line x1="353.55" y1="505.50" x2="362.55" y2="505.50" stroke="#2a2a2a" stroke-width="0.9" />
<circle cx="378.25" cy="467.92" r="1.45" fill="#111"/>
<circle cx="378.25" cy="472.67" r="1.45" fill="#111"/>
<circle cx="378.25" cy="480.50" r="1.45" fill="#111"/>
<circle cx="380.25" cy="483.57" r="1.45" fill="#111"/>
<circle cx="376.00" cy="485.81" r="1.45" fill="#111"/>
<circle cx="376.00" cy="496.43" r="1.45" fill="#111"/>
<circle cx="380.25" cy="497.27" r="1.45" fill="#111"/>
<circle cx="378.25" cy="499.50" r="1.45" fill="#111"/>
<circle cx="378.25" cy="509.01" r="1.45" fill="#111"/>
<circle cx="380.25" cy="512.36" r="1.45" fill="#111"/>
<circle cx="376.00" cy="513.48" r="1.45" fill="#111"/>
<circle cx="378.25" cy="518.23" r="1.45" fill="#111"/>
<circle cx="378.25" cy="521.86" r="1.45" fill="#111"/>
<circle cx="380.25" cy="532.48" r="1.45" fill="#111"/>
<circle cx="376.00" cy="535.00" r="1.45" fill="#111"/>
<line x1="378.25" y1="497.00" x2="378.25" y2="507.40" stroke="#2a2a2a" stroke-width="0.9" />
<line x1="373.75" y1="497.00" x2="382.75" y2="497.00" stroke="#2a2a2a" stroke-width="0.9" />
<line x1="373.75" y1="507.40" x2="382.75" y2="507.40" stroke="#2a2a2a" stroke-width="0.9" />
<circle cx="398.65" cy="422.64" r="1.45" fill="#111"/>
<circle cx="398.65" cy="452.55" r="1.45" fill="#111"/>
<circle cx="396.15" cy="485.25" r="1.45" fill="#111"/>
<circle cx="401.15" cy="485.25" r="1.45" fill="#111"/>
<circle cx="398.65" cy="488.32" r="1.45" fill="#111"/>
<circle cx="398.65" cy="498.39" r="1.45" fill="#111"/>
<circle cx="398.65" cy="500.62" r="1.45" fill="#111"/>
<circle cx="398.65" cy="505.93" r="1.45" fill="#111"/>
<circle cx="398.65" cy="512.36" r="1.45" fill="#111"/>
<circle cx="398.65" cy="515.99" r="1.45" fill="#111"/>
<circle cx="398.65" cy="519.07" r="1.45" fill="#111"/>
<circle cx="398.65" cy="522.14" r="1.45" fill="#111"/>
<circle cx="398.65" cy="525.78" r="1.45" fill="#111"/>
<circle cx="401.15" cy="530.25" r="1.45" fill="#111"/>
<circle cx="396.15" cy="531.09" r="1.45" fill="#111"/>
<circle cx="396.15" cy="533.88" r="1.45" fill="#111"/>
<circle cx="401.15" cy="533.88" r="1.45" fill="#111"/>
<line x1="398.65" y1="496.30" x2="398.65" y2="511.30" stroke="#2a2a2a" stroke-width="0.9" />
<line x1="394.15" y1="496.30" x2="403.15" y2="496.30" stroke="#2a2a2a" stroke-width="0.9" />
<line x1="394.15" y1="511.30" x2="403.15" y2="511.30" stroke="#2a2a2a" stroke-width="0.9" />
<circle cx="418.85" cy="469.32" r="1.45" fill="#111"/>
<circle cx="418.85" cy="475.19" r="1.45" fill="#111"/>
<circle cx="418.85" cy="478.54" r="1.45" fill="#111"/>
<circle cx="418.85" cy="488.32" r="1.45" fill="#111"/>
<circle cx="416.35" cy="492.52" r="1.45" fill="#111"/>
<circle cx="421.35" cy="494.75" r="1.45" fill="#111"/>
<circle cx="416.35" cy="496.15" r="1.45" fill="#111"/>
<circle cx="418.85" cy="502.30" r="1.45" fill="#111"/>
<circle cx="418.85" cy="504.53" r="1.45" fill="#111"/>
<circle cx="418.85" cy="523.54" r="1.45" fill="#111"/>
<circle cx="418.85" cy="529.97" r="1.45" fill="#111"/>
<circle cx="416.35" cy="534.44" r="1.45" fill="#111"/>
<circle cx="421.35" cy="534.44" r="1.45" fill="#111"/>
<line x1="418.85" y1="496.30" x2="418.85" y2="508.30" stroke="#2a2a2a" stroke-width="0.9" />
<line x1="414.35" y1="496.30" x2="423.35" y2="496.30" stroke="#2a2a2a" stroke-width="0.9" />
<line x1="414.35" y1="508.30" x2="423.35" y2="508.30" stroke="#2a2a2a" stroke-width="0.9" />
<line x1="388.45" y1="535.00" x2="388.45" y2="538.90" stroke="#4d4d4d" stroke-width="1" />
<text x="90.64" y="552.00" font-size="14" fill="#1a1a1a" textLength="17.99" lengthAdjust="spacingAndGlyphs" >TQ</text>
<text x="187.10" y="552.00" font-size="14" fill="#1a1a1a" textLength="17.47" lengthAdjust="spacingAndGlyphs" >AL</text>
<text x="282.76" y="552.00" font-size="14" fill="#1a1a1a" textLength="20.66" lengthAdjust="spacingAndGlyphs" >OP</text>
<text x="380.70" y="552.00" font-size="14" fill="#1a1a1a" textLength="19.28" lengthAdjust="spacingAndGlyphs" >AR</text>
<line x1="66.00" y1="387.30" x2="87.90" y2="387.30" stroke="#777" stroke-width="1" />
<text x="70.16" y="387.80" font-size="11" fill="#1a1a1a" class="st">***</text>
<line x1="87.50" y1="402.40" x2="129.20" y2="402.40" stroke="#777" stroke-width="1" />
<text x="102.41" y="402.00" font-size="11" fill="#1a1a1a" class="st">**</text>
<rect x="287.80" y="364.70" width="12.00" height="7.00" fill="#ffffff" stroke="#333" stroke-width="0.9" />
<text x="307.74" y="372.00" font-size="12.5" fill="#1a1a1a" textLength="49.53" lengthAdjust="spacingAndGlyphs" >WT+Veh</text>
<rect x="287.80" y="379.20" width="12.00" height="7.00" fill="#EE8A58" stroke="#333" stroke-width="0.9" />
<text x="307.80" y="386.50" font-size="12.5" fill="#1a1a1a" textLength="80.54" lengthAdjust="spacingAndGlyphs" >APP/PS1+Veh</text>
<rect x="287.80" y="393.70" width="12.00" height="7.00" fill="#CA9D5A" stroke="#333" stroke-width="0.9" />
<text x="307.80" y="401.00" font-size="12.5" fill="#1a1a1a" textLength="85.31" lengthAdjust="spacingAndGlyphs" >APP/PS1+Daid</text>
<rect x="287.80" y="408.20" width="12.00" height="7.00" fill="#217B8B" stroke="#333" stroke-width="0.9" />
<text x="307.80" y="415.50" font-size="12.5" fill="#1a1a1a" textLength="79.64" lengthAdjust="spacingAndGlyphs" >APP/PS1+Chr</text>
<text x="463.66" y="385.50" font-size="18" fill="#1a1a1a" textLength="10.97" lengthAdjust="spacingAndGlyphs" >F</text>
<line x1="522.00" y1="385.80" x2="522.00" y2="531.70" stroke="#4d4d4d" stroke-width="1.0" />
<line x1="518.40" y1="531.20" x2="667.80" y2="531.20" stroke="#4d4d4d" stroke-width="1.1" />
<line x1="518.40" y1="531.20" x2="522.00" y2="531.20" stroke="#4d4d4d" stroke-width="1" />
<text x="509.97" y="535.30" font-size="11.4" fill="#1a1a1a">0</text>
<line x1="518.40" y1="482.90" x2="522.00" y2="482.90" stroke="#4d4d4d" stroke-width="1" />
<text x="510.03" y="487.00" font-size="11.4" fill="#1a1a1a">5</text>
<line x1="518.40" y1="434.60" x2="522.00" y2="434.60" stroke="#4d4d4d" stroke-width="1" />
<text x="503.64" y="438.70" font-size="11.4" fill="#1a1a1a">10</text>
<line x1="518.40" y1="386.30" x2="522.00" y2="386.30" stroke="#4d4d4d" stroke-width="1" />
<text x="503.70" y="390.40" font-size="11.4" fill="#1a1a1a">15</text>
<text x="0" y="0" font-size="14" fill="#1a1a1a" textLength="80.22" lengthAdjust="spacingAndGlyphs" transform="translate(496.20,495.53) rotate(-90)">Distance (m)</text>
<rect x="533.40" y="422.04" width="22.20" height="109.16" fill="#ffffff" stroke="#2e2e2e" stroke-width="1" />
<rect x="566.60" y="436.05" width="22.20" height="95.15" fill="#EE8A58" stroke="#2e2e2e" stroke-width="1" />
<rect x="600.10" y="434.12" width="22.20" height="97.08" fill="#CA9D5A" stroke="#2e2e2e" stroke-width="1" />
<rect x="633.50" y="432.19" width="22.20" height="99.01" fill="#217B8B" stroke="#2e2e2e" stroke-width="1" />
<circle cx="544.50" cy="394.03" r="1.45" fill="#111"/>
<circle cx="544.50" cy="402.72" r="1.45" fill="#111"/>
<circle cx="544.50" cy="408.52" r="1.45" fill="#111"/>
<circle cx="544.50" cy="416.25" r="1.45" fill="#111"/>
<circle cx="544.50" cy="420.11" r="1.45" fill="#111"/>
<circle cx="537.90" cy="424.94" r="1.45" fill="#111"/>
<circle cx="542.30" cy="424.94" r="1.45" fill="#111"/>
<circle cx="546.70" cy="424.94" r="1.45" fill="#111"/>
<circle cx="551.10" cy="424.94" r="1.45" fill="#111"/>
<circle cx="542.30" cy="426.39" r="1.45" fill="#111"/>
<circle cx="546.70" cy="426.39" r="1.45" fill="#111"/>
<circle cx="542.30" cy="427.84" r="1.45" fill="#111"/>
<circle cx="551.10" cy="427.84" r="1.45" fill="#111"/>
<circle cx="542.30" cy="431.70" r="1.45" fill="#111"/>
<circle cx="546.70" cy="432.67" r="1.45" fill="#111"/>
<circle cx="544.50" cy="438.46" r="1.45" fill="#111"/>
<line x1="544.50" y1="418.40" x2="544.50" y2="425.50" stroke="#2a2a2a" stroke-width="1" />
<line x1="539.50" y1="418.40" x2="549.50" y2="418.40" stroke="#2a2a2a" stroke-width="1" />
<line x1="539.50" y1="425.50" x2="549.50" y2="425.50" stroke="#2a2a2a" stroke-width="1" />
<line x1="544.50" y1="531.20" x2="544.50" y2="534.20" stroke="#4d4d4d" stroke-width="1" />
<circle cx="577.70" cy="412.38" r="1.45" fill="#111"/>
<circle cx="573.30" cy="421.08" r="1.45" fill="#111"/>
<circle cx="577.70" cy="422.04" r="1.45" fill="#111"/>
<circle cx="582.10" cy="422.04" r="1.45" fill="#111"/>
<circle cx="573.30" cy="424.94" r="1.45" fill="#111"/>
<circle cx="577.70" cy="429.77" r="1.45" fill="#111"/>
<circle cx="577.70" cy="432.67" r="1.45" fill="#111"/>
<circle cx="573.30" cy="437.50" r="1.45" fill="#111"/>
<circle cx="577.70" cy="437.50" r="1.45" fill="#111"/>
<circle cx="573.30" cy="439.43" r="1.45" fill="#111"/>
<circle cx="582.10" cy="439.43" r="1.45" fill="#111"/>
<circle cx="575.50" cy="445.23" r="1.45" fill="#111"/>
<circle cx="579.90" cy="445.23" r="1.45" fill="#111"/>
<circle cx="577.70" cy="458.75" r="1.45" fill="#111"/>
<circle cx="577.70" cy="466.48" r="1.45" fill="#111"/>
<line x1="577.70" y1="431.80" x2="577.70" y2="439.00" stroke="#2a2a2a" stroke-width="1" />
<line x1="572.70" y1="431.80" x2="582.70" y2="431.80" stroke="#2a2a2a" stroke-width="1" />
<line x1="572.70" y1="439.00" x2="582.70" y2="439.00" stroke="#2a2a2a" stroke-width="1" />
<line x1="577.70" y1="531.20" x2="577.70" y2="534.20" stroke="#4d4d4d" stroke-width="1" />
<circle cx="611.20" cy="402.72" r="1.45" fill="#111"/>
<circle cx="611.20" cy="411.42" r="1.45" fill="#111"/>
<circle cx="609.00" cy="416.25" r="1.45" fill="#111"/>
<circle cx="613.40" cy="416.25" r="1.45" fill="#111"/>
<circle cx="609.00" cy="423.01" r="1.45" fill="#111"/>
<circle cx="613.40" cy="423.01" r="1.45" fill="#111"/>
<circle cx="609.00" cy="431.70" r="1.45" fill="#111"/>
<circle cx="613.40" cy="433.63" r="1.45" fill="#111"/>
<circle cx="609.00" cy="435.57" r="1.45" fill="#111"/>
<circle cx="613.40" cy="435.57" r="1.45" fill="#111"/>
<circle cx="611.20" cy="437.02" r="1.45" fill="#111"/>
<circle cx="613.40" cy="437.02" r="1.45" fill="#111"/>
<circle cx="609.00" cy="438.46" r="1.45" fill="#111"/>
<circle cx="613.40" cy="442.33" r="1.45" fill="#111"/>
<circle cx="609.00" cy="443.29" r="1.45" fill="#111"/>
<circle cx="611.20" cy="446.19" r="1.45" fill="#111"/>
<circle cx="609.00" cy="454.89" r="1.45" fill="#111"/>
<circle cx="613.40" cy="454.89" r="1.45" fill="#111"/>
<circle cx="611.20" cy="467.44" r="1.45" fill="#111"/>
<line x1="611.20" y1="429.80" x2="611.20" y2="438.50" stroke="#2a2a2a" stroke-width="1" />
<line x1="606.20" y1="429.80" x2="616.20" y2="429.80" stroke="#2a2a2a" stroke-width="1" />
<line x1="606.20" y1="438.50" x2="616.20" y2="438.50" stroke="#2a2a2a" stroke-width="1" />
<line x1="611.20" y1="531.20" x2="611.20" y2="534.20" stroke="#4d4d4d" stroke-width="1" />
<circle cx="644.60" cy="405.62" r="1.45" fill="#111"/>
<circle cx="644.60" cy="410.45" r="1.45" fill="#111"/>
<circle cx="644.60" cy="418.18" r="1.45" fill="#111"/>
<circle cx="642.40" cy="423.97" r="1.45" fill="#111"/>
<circle cx="646.80" cy="423.97" r="1.45" fill="#111"/>
<circle cx="644.60" cy="426.87" r="1.45" fill="#111"/>
<circle cx="642.40" cy="429.77" r="1.45" fill="#111"/>
<circle cx="646.80" cy="431.70" r="1.45" fill="#111"/>
<circle cx="644.60" cy="437.50" r="1.45" fill="#111"/>
<circle cx="644.60" cy="442.33" r="1.45" fill="#111"/>
<circle cx="644.60" cy="448.61" r="1.45" fill="#111"/>
<circle cx="644.60" cy="452.95" r="1.45" fill="#111"/>
<circle cx="644.60" cy="464.55" r="1.45" fill="#111"/>
<line x1="644.60" y1="427.30" x2="644.60" y2="436.30" stroke="#2a2a2a" stroke-width="1" />
<line x1="639.60" y1="427.30" x2="649.60" y2="427.30" stroke="#2a2a2a" stroke-width="1" />
<line x1="639.60" y1="436.30" x2="649.60" y2="436.30" stroke="#2a2a2a" stroke-width="1" />
<line x1="644.60" y1="531.20" x2="644.60" y2="534.20" stroke="#4d4d4d" stroke-width="1" />
<text x="533.83" y="546.60" font-size="14.2" fill="#1a1a1a" textLength="25.52" lengthAdjust="spacingAndGlyphs" >Veh</text>
<text x="566.23" y="546.60" font-size="14.2" fill="#1a1a1a" textLength="24.90" lengthAdjust="spacingAndGlyphs" >Veh</text>
<text x="598.94" y="546.60" font-size="14.2" fill="#1a1a1a" textLength="29.72" lengthAdjust="spacingAndGlyphs" >Daid</text>
<text x="634.78" y="546.60" font-size="14.2" fill="#1a1a1a" textLength="23.36" lengthAdjust="spacingAndGlyphs" >Chr</text>
<line x1="532.40" y1="553.00" x2="556.30" y2="553.00" stroke="#555" stroke-width="1.2" />
<line x1="564.80" y1="553.00" x2="655.20" y2="553.00" stroke="#555" stroke-width="1.2" />
<text x="535.93" y="567.80" font-size="14.2" fill="#1a1a1a" textLength="22.76" lengthAdjust="spacingAndGlyphs" >WT</text>
<text x="582.60" y="567.80" font-size="14.2" fill="#1a1a1a" textLength="56.90" lengthAdjust="spacingAndGlyphs" >APP/PS1</text>
<text x="0.18" y="593.30" font-size="17.5" fill="#1a1a1a" textLength="14.25" lengthAdjust="spacingAndGlyphs" >G</text>
<line x1="46.60" y1="629.02" x2="46.60" y2="777.90" stroke="#4d4d4d" stroke-width="1.0" />
<line x1="43.10" y1="777.40" x2="195.40" y2="777.40" stroke="#4d4d4d" stroke-width="1.1" />
<line x1="43.10" y1="777.40" x2="46.60" y2="777.40" stroke="#4d4d4d" stroke-width="1" />
<text x="34.86" y="781.60" font-size="11.8" fill="#1a1a1a">0</text>
<line x1="43.10" y1="747.82" x2="46.60" y2="747.82" stroke="#4d4d4d" stroke-width="1" />
<text x="34.92" y="752.02" font-size="11.8" fill="#1a1a1a">5</text>
<line x1="43.10" y1="718.25" x2="46.60" y2="718.25" stroke="#4d4d4d" stroke-width="1" />
<text x="28.31" y="722.45" font-size="11.8" fill="#1a1a1a">10</text>
<line x1="43.10" y1="688.67" x2="46.60" y2="688.67" stroke="#4d4d4d" stroke-width="1" />
<text x="28.37" y="692.88" font-size="11.8" fill="#1a1a1a">15</text>
<line x1="43.10" y1="659.10" x2="46.60" y2="659.10" stroke="#4d4d4d" stroke-width="1" />
<text x="28.31" y="663.30" font-size="11.8" fill="#1a1a1a">20</text>
<line x1="43.10" y1="629.52" x2="46.60" y2="629.52" stroke="#4d4d4d" stroke-width="1" />
<text x="28.37" y="633.73" font-size="11.8" fill="#1a1a1a">25</text>
<text x="0" y="0" font-size="14" fill="#1a1a1a" textLength="90.52" lengthAdjust="spacingAndGlyphs" transform="translate(19.10,745.87) rotate(-90)">Velocity (cm/s)</text>
<rect x="52.90" y="665.31" width="24.40" height="112.09" fill="#ffffff" stroke="#2e2e2e" stroke-width="1" />
<rect x="90.10" y="679.51" width="24.40" height="97.89" fill="#EE8A58" stroke="#2e2e2e" stroke-width="1" />
<rect x="127.50" y="678.32" width="24.40" height="99.08" fill="#CA9D5A" stroke="#2e2e2e" stroke-width="1" />
<rect x="164.30" y="676.25" width="24.40" height="101.15" fill="#217B8B" stroke="#2e2e2e" stroke-width="1" />
<circle cx="65.10" cy="636.03" r="1.5" fill="#111"/>
<circle cx="65.10" cy="645.50" r="1.5" fill="#111"/>
<circle cx="65.10" cy="648.45" r="1.5" fill="#111"/>
<circle cx="65.10" cy="659.10" r="1.5" fill="#111"/>
<circle cx="65.10" cy="662.65" r="1.5" fill="#111"/>
<circle cx="62.60" cy="666.20" r="1.5" fill="#111"/>
<circle cx="67.60" cy="666.20" r="1.5" fill="#111"/>
<circle cx="60.10" cy="667.97" r="1.5" fill="#111"/>
<circle cx="62.60" cy="667.97" r="1.5" fill="#111"/>
<circle cx="67.60" cy="667.97" r="1.5" fill="#111"/>
<circle cx="62.60" cy="669.16" r="1.5" fill="#111"/>
<circle cx="62.60" cy="670.93" r="1.5" fill="#111"/>
<circle cx="67.60" cy="670.93" r="1.5" fill="#111"/>
<circle cx="72.60" cy="671.52" r="1.5" fill="#111"/>
<circle cx="62.60" cy="675.07" r="1.5" fill="#111"/>
<circle cx="67.60" cy="675.07" r="1.5" fill="#111"/>
<circle cx="67.60" cy="676.25" r="1.5" fill="#111"/>
<circle cx="65.10" cy="682.17" r="1.5" fill="#111"/>
<line x1="65.10" y1="661.90" x2="65.10" y2="668.50" stroke="#2a2a2a" stroke-width="1" />
<line x1="59.60" y1="661.90" x2="70.60" y2="661.90" stroke="#2a2a2a" stroke-width="1" />
<line x1="59.60" y1="668.50" x2="70.60" y2="668.50" stroke="#2a2a2a" stroke-width="1" />
<line x1="65.10" y1="777.40" x2="65.10" y2="780.40" stroke="#4d4d4d" stroke-width="1" />
<circle cx="102.30" cy="654.96" r="1.5" fill="#111"/>
<circle cx="102.30" cy="662.06" r="1.5" fill="#111"/>
<circle cx="102.30" cy="664.42" r="1.5" fill="#111"/>
<circle cx="107.30" cy="665.01" r="1.5" fill="#111"/>
<circle cx="102.30" cy="666.79" r="1.5" fill="#111"/>
<circle cx="102.30" cy="673.30" r="1.5" fill="#111"/>
<circle cx="102.30" cy="676.85" r="1.5" fill="#111"/>
<circle cx="97.30" cy="681.58" r="1.5" fill="#111"/>
<circle cx="102.30" cy="681.58" r="1.5" fill="#111"/>
<circle cx="97.30" cy="683.94" r="1.5" fill="#111"/>
<circle cx="107.30" cy="683.94" r="1.5" fill="#111"/>
<circle cx="107.30" cy="687.49" r="1.5" fill="#111"/>
<circle cx="102.30" cy="689.27" r="1.5" fill="#111"/>
<circle cx="102.30" cy="701.10" r="1.5" fill="#111"/>
<circle cx="102.30" cy="710.86" r="1.5" fill="#111"/>
<line x1="102.30" y1="675.40" x2="102.30" y2="683.80" stroke="#2a2a2a" stroke-width="1" />
<line x1="96.80" y1="675.40" x2="107.80" y2="675.40" stroke="#2a2a2a" stroke-width="1" />
<line x1="96.80" y1="683.80" x2="107.80" y2="683.80" stroke="#2a2a2a" stroke-width="1" />
<line x1="102.30" y1="777.40" x2="102.30" y2="780.40" stroke="#4d4d4d" stroke-width="1" />
<circle cx="139.70" cy="645.50" r="1.5" fill="#111"/>
<circle cx="139.70" cy="654.96" r="1.5" fill="#111"/>
<circle cx="137.20" cy="659.10" r="1.5" fill="#111"/>
<circle cx="142.20" cy="659.69" r="1.5" fill="#111"/>
<circle cx="137.20" cy="667.38" r="1.5" fill="#111"/>
<circle cx="142.20" cy="666.79" r="1.5" fill="#111"/>
<circle cx="137.20" cy="675.66" r="1.5" fill="#111"/>
<circle cx="142.20" cy="677.44" r="1.5" fill="#111"/>
<circle cx="137.20" cy="679.21" r="1.5" fill="#111"/>
<circle cx="142.20" cy="680.99" r="1.5" fill="#111"/>
<circle cx="137.20" cy="682.76" r="1.5" fill="#111"/>
<circle cx="142.20" cy="686.90" r="1.5" fill="#111"/>
<circle cx="137.20" cy="687.79" r="1.5" fill="#111"/>
<circle cx="139.70" cy="690.45" r="1.5" fill="#111"/>
<circle cx="137.20" cy="697.55" r="1.5" fill="#111"/>
<circle cx="142.20" cy="699.32" r="1.5" fill="#111"/>
<circle cx="139.70" cy="711.74" r="1.5" fill="#111"/>
<line x1="139.70" y1="673.80" x2="139.70" y2="682.30" stroke="#2a2a2a" stroke-width="1" />
<line x1="134.20" y1="673.80" x2="145.20" y2="673.80" stroke="#2a2a2a" stroke-width="1" />
<line x1="134.20" y1="682.30" x2="145.20" y2="682.30" stroke="#2a2a2a" stroke-width="1" />
<line x1="139.70" y1="777.40" x2="139.70" y2="780.40" stroke="#4d4d4d" stroke-width="1" />
<circle cx="176.50" cy="648.45" r="1.5" fill="#111"/>
<circle cx="176.50" cy="653.78" r="1.5" fill="#111"/>
<circle cx="176.50" cy="661.47" r="1.5" fill="#111"/>
<circle cx="174.00" cy="667.38" r="1.5" fill="#111"/>
<circle cx="179.00" cy="667.38" r="1.5" fill="#111"/>
<circle cx="176.50" cy="670.63" r="1.5" fill="#111"/>
<circle cx="174.00" cy="673.89" r="1.5" fill="#111"/>
<circle cx="179.00" cy="675.37" r="1.5" fill="#111"/>
<circle cx="176.50" cy="680.99" r="1.5" fill="#111"/>
<circle cx="176.50" cy="686.60" r="1.5" fill="#111"/>
<circle cx="176.50" cy="692.82" r="1.5" fill="#111"/>
<circle cx="176.50" cy="697.55" r="1.5" fill="#111"/>
<circle cx="176.50" cy="709.67" r="1.5" fill="#111"/>
<line x1="176.50" y1="671.50" x2="176.50" y2="681.00" stroke="#2a2a2a" stroke-width="1" />
<line x1="171.00" y1="671.50" x2="182.00" y2="671.50" stroke="#2a2a2a" stroke-width="1" />
<line x1="171.00" y1="681.00" x2="182.00" y2="681.00" stroke="#2a2a2a" stroke-width="1" />
<line x1="176.50" y1="777.40" x2="176.50" y2="780.40" stroke="#4d4d4d" stroke-width="1" />
<text x="53.73" y="794.70" font-size="14.2" fill="#1a1a1a" textLength="24.59" lengthAdjust="spacingAndGlyphs" >Veh</text>
<text x="88.73" y="794.70" font-size="14.2" fill="#1a1a1a" textLength="24.59" lengthAdjust="spacingAndGlyphs" >Veh</text>
<text x="124.44" y="794.70" font-size="14.2" fill="#1a1a1a" textLength="29.94" lengthAdjust="spacingAndGlyphs" >Daid</text>
<text x="164.68" y="794.70" font-size="14.2" fill="#1a1a1a" textLength="23.36" lengthAdjust="spacingAndGlyphs" >Chr</text>
<line x1="52.20" y1="798.40" x2="77.40" y2="798.40" stroke="#555" stroke-width="1.2" />
<line x1="91.00" y1="798.40" x2="184.50" y2="798.40" stroke="#555" stroke-width="1.2" />
<text x="55.43" y="815.50" font-size="14.2" fill="#1a1a1a" textLength="22.66" lengthAdjust="spacingAndGlyphs" >WT</text>
<text x="108.50" y="815.50" font-size="14.2" fill="#1a1a1a" textLength="57.10" lengthAdjust="spacingAndGlyphs" >APP/PS1</text>
<text x="223.46" y="593.80" font-size="18.5" fill="#1a1a1a" textLength="13.03" lengthAdjust="spacingAndGlyphs" >H</text>
<text x="307.72" y="610.60" font-size="14" fill="#1a1a1a" textLength="91.15" lengthAdjust="spacingAndGlyphs" >Training phase</text>
<text x="293.85" y="626.90" font-size="14" fill="#1a1a1a" textLength="117.52" lengthAdjust="spacingAndGlyphs" >(Preference score)</text>
<text x="0" y="0" font-size="14.3" fill="#1a1a1a" textLength="57.69" lengthAdjust="spacingAndGlyphs" transform="translate(236.00,733.29) rotate(-90)">Time (%)</text>
<line x1="268.40" y1="630.90" x2="268.40" y2="777.10" stroke="#4d4d4d" stroke-width="1.0" />
<line x1="263.90" y1="776.60" x2="423.20" y2="776.60" stroke="#4d4d4d" stroke-width="1.1" />
<line x1="263.90" y1="776.60" x2="268.40" y2="776.60" stroke="#4d4d4d" stroke-width="1" />
<text x="256.32" y="780.60" font-size="11.3" fill="#1a1a1a">0</text>
<line x1="263.90" y1="747.56" x2="268.40" y2="747.56" stroke="#4d4d4d" stroke-width="1" />
<text x="250.05" y="751.56" font-size="11.3" fill="#1a1a1a">20</text>
<line x1="263.90" y1="718.52" x2="268.40" y2="718.52" stroke="#4d4d4d" stroke-width="1" />
<text x="250.05" y="722.52" font-size="11.3" fill="#1a1a1a">40</text>
<line x1="263.90" y1="689.48" x2="268.40" y2="689.48" stroke="#4d4d4d" stroke-width="1" />
<text x="250.05" y="693.48" font-size="11.3" fill="#1a1a1a">60</text>
<line x1="263.90" y1="660.44" x2="268.40" y2="660.44" stroke="#4d4d4d" stroke-width="1" />
<text x="250.05" y="664.44" font-size="11.3" fill="#1a1a1a">80</text>
<line x1="263.90" y1="631.40" x2="268.40" y2="631.40" stroke="#4d4d4d" stroke-width="1" />
<text x="243.78" y="635.40" font-size="11.3" fill="#1a1a1a">100</text>
<line x1="283.60" y1="709.81" x2="304.60" y2="709.81" stroke="#444" stroke-width="1.1" />
<line x1="294.10" y1="713.44" x2="294.10" y2="706.03" stroke="#444" stroke-width="1" />
<line x1="287.60" y1="713.44" x2="300.60" y2="713.44" stroke="#444" stroke-width="1" />
<line x1="287.60" y1="706.03" x2="300.60" y2="706.03" stroke="#444" stroke-width="1" />
<line x1="294.10" y1="776.60" x2="294.10" y2="780.10" stroke="#4d4d4d" stroke-width="1" />
<line x1="324.90" y1="708.21" x2="340.70" y2="708.21" stroke="#444" stroke-width="1.1" />
<line x1="332.80" y1="711.55" x2="332.80" y2="703.56" stroke="#444" stroke-width="1" />
<line x1="326.30" y1="711.55" x2="339.30" y2="711.55" stroke="#444" stroke-width="1" />
<line x1="326.30" y1="703.56" x2="339.30" y2="703.56" stroke="#444" stroke-width="1" />
<line x1="332.80" y1="776.60" x2="332.80" y2="780.10" stroke="#4d4d4d" stroke-width="1" />
<line x1="358.15" y1="698.05" x2="384.65" y2="698.05" stroke="#444" stroke-width="1.1" />
<line x1="371.40" y1="703.27" x2="371.40" y2="692.53" stroke="#444" stroke-width="1" />
<line x1="364.90" y1="703.27" x2="377.90" y2="703.27" stroke="#444" stroke-width="1" />
<line x1="364.90" y1="692.53" x2="377.90" y2="692.53" stroke="#444" stroke-width="1" />
<line x1="371.40" y1="776.60" x2="371.40" y2="780.10" stroke="#4d4d4d" stroke-width="1" />
<line x1="397.10" y1="709.37" x2="423.50" y2="709.37" stroke="#444" stroke-width="1.1" />
<line x1="410.30" y1="713.00" x2="410.30" y2="704.73" stroke="#444" stroke-width="1" />
<line x1="403.80" y1="713.00" x2="416.80" y2="713.00" stroke="#444" stroke-width="1" />
<line x1="403.80" y1="704.73" x2="416.80" y2="704.73" stroke="#444" stroke-width="1" />
<line x1="410.30" y1="776.60" x2="410.30" y2="780.10" stroke="#4d4d4d" stroke-width="1" />
<path d="M291.60,676.74 L296.60,676.74 L294.10,681.36 Z" fill="#6a6a6a"/>
<path d="M291.60,685.74 L296.60,685.74 L294.10,690.36 Z" fill="#6a6a6a"/>
<path d="M291.60,695.47 L296.60,695.47 L294.10,700.09 Z" fill="#6a6a6a"/>
<path d="M281.10,702.44 L286.10,702.44 L283.60,707.06 Z" fill="#6a6a6a"/>
<path d="M288.10,704.76 L293.10,704.76 L290.60,709.38 Z" fill="#6a6a6a"/>
<path d="M295.50,704.76 L300.50,704.76 L298.00,709.38 Z" fill="#6a6a6a"/>
<path d="M281.10,707.08 L286.10,707.08 L283.60,711.71 Z" fill="#6a6a6a"/>
<path d="M302.50,707.08 L307.50,707.08 L305.00,711.71 Z" fill="#6a6a6a"/>
<path d="M281.10,708.53 L286.10,708.53 L283.60,713.16 Z" fill="#6a6a6a"/>
<path d="M302.50,713.91 L307.50,713.91 L305.00,718.53 Z" fill="#6a6a6a"/>
<path d="M281.10,715.94 L286.10,715.94 L283.60,720.56 Z" fill="#6a6a6a"/>
<path d="M288.10,718.84 L293.10,718.84 L290.60,723.47 Z" fill="#6a6a6a"/>
<path d="M295.50,718.84 L300.50,718.84 L298.00,723.47 Z" fill="#6a6a6a"/>
<path d="M288.10,725.81 L293.10,725.81 L290.60,730.44 Z" fill="#6a6a6a"/>
<path d="M295.50,725.81 L300.50,725.81 L298.00,730.44 Z" fill="#6a6a6a"/>
<rect x="330.20" y="674.97" width="5.20" height="5.20" fill="#EE8C5A" stroke="none" stroke-width="1" />
<rect x="330.20" y="677.44" width="5.20" height="5.20" fill="#EE8C5A" stroke="none" stroke-width="1" />
<rect x="330.20" y="680.35" width="5.20" height="5.20" fill="#EE8C5A" stroke="none" stroke-width="1" />
<rect x="330.20" y="688.04" width="5.20" height="5.20" fill="#EE8C5A" stroke="none" stroke-width="1" />
<rect x="319.70" y="697.77" width="5.20" height="5.20" fill="#EE8C5A" stroke="none" stroke-width="1" />
<rect x="341.00" y="697.77" width="5.20" height="5.20" fill="#EE8C5A" stroke="none" stroke-width="1" />
<rect x="330.20" y="700.67" width="5.20" height="5.20" fill="#EE8C5A" stroke="none" stroke-width="1" />
<rect x="319.70" y="704.16" width="5.20" height="5.20" fill="#EE8C5A" stroke="none" stroke-width="1" />
<rect x="341.00" y="704.16" width="5.20" height="5.20" fill="#EE8C5A" stroke="none" stroke-width="1" />
<rect x="319.70" y="706.48" width="5.20" height="5.20" fill="#EE8C5A" stroke="none" stroke-width="1" />
<rect x="319.70" y="709.39" width="5.20" height="5.20" fill="#EE8C5A" stroke="none" stroke-width="1" />
<rect x="330.20" y="710.55" width="5.20" height="5.20" fill="#EE8C5A" stroke="none" stroke-width="1" />
<rect x="319.70" y="713.60" width="5.20" height="5.20" fill="#EE8C5A" stroke="none" stroke-width="1" />
<rect x="330.20" y="717.08" width="5.20" height="5.20" fill="#EE8C5A" stroke="none" stroke-width="1" />
<rect x="341.00" y="717.08" width="5.20" height="5.20" fill="#EE8C5A" stroke="none" stroke-width="1" />
<rect x="330.20" y="722.31" width="5.20" height="5.20" fill="#EE8C5A" stroke="none" stroke-width="1" />
<rect x="341.00" y="722.31" width="5.20" height="5.20" fill="#EE8C5A" stroke="none" stroke-width="1" />
<rect x="330.20" y="732.91" width="5.20" height="5.20" fill="#EE8C5A" stroke="none" stroke-width="1" />
<path d="M371.40,643.78 L374.70,647.08 L371.40,650.38 L368.10,647.08 Z" fill="#CC9C56"/>
<path d="M368.90,665.13 L372.20,668.43 L368.90,671.73 L365.60,668.43 Z" fill="#CC9C56"/>
<path d="M373.90,668.03 L377.20,671.33 L373.90,674.63 L370.60,671.33 Z" fill="#CC9C56"/>
<path d="M366.40,676.31 L369.70,679.61 L366.40,682.91 L363.10,679.61 Z" fill="#CC9C56"/>
<path d="M376.40,677.90 L379.70,681.20 L376.40,684.50 L373.10,681.20 Z" fill="#CC9C56"/>
<path d="M371.40,681.39 L374.70,684.69 L371.40,687.99 L368.10,684.69 Z" fill="#CC9C56"/>
<path d="M366.40,685.60 L369.70,688.90 L366.40,692.20 L363.10,688.90 Z" fill="#CC9C56"/>
<path d="M371.40,689.96 L374.70,693.26 L371.40,696.56 L368.10,693.26 Z" fill="#CC9C56"/>
<path d="M366.40,691.55 L369.70,694.85 L366.40,698.15 L363.10,694.85 Z" fill="#CC9C56"/>
<path d="M366.40,698.38 L369.70,701.68 L366.40,704.98 L363.10,701.68 Z" fill="#CC9C56"/>
<path d="M376.40,700.55 L379.70,703.85 L376.40,707.15 L373.10,703.85 Z" fill="#CC9C56"/>
<path d="M371.40,701.86 L374.70,705.16 L371.40,708.46 L368.10,705.16 Z" fill="#CC9C56"/>
<path d="M361.40,705.64 L364.70,708.94 L361.40,712.24 L358.10,708.94 Z" fill="#CC9C56"/>
<path d="M366.40,709.56 L369.70,712.86 L366.40,716.16 L363.10,712.86 Z" fill="#CC9C56"/>
<path d="M371.40,709.56 L374.70,712.86 L371.40,716.16 L368.10,712.86 Z" fill="#CC9C56"/>
<path d="M376.40,709.56 L379.70,712.86 L376.40,716.16 L373.10,712.86 Z" fill="#CC9C56"/>
<path d="M381.40,709.56 L384.70,712.86 L381.40,716.16 L378.10,712.86 Z" fill="#CC9C56"/>
<path d="M371.40,730.03 L374.70,733.33 L371.40,736.63 L368.10,733.33 Z" fill="#CC9C56"/>
<path d="M371.40,743.68 L374.70,746.98 L371.40,750.28 L368.10,746.98 Z" fill="#CC9C56"/>
<circle cx="410.30" cy="672.35" r="2.6" fill="#1E7D8C"/>
<circle cx="399.60" cy="688.03" r="2.6" fill="#1E7D8C"/>
<circle cx="410.30" cy="690.64" r="2.6" fill="#1E7D8C"/>
<circle cx="410.30" cy="696.59" r="2.6" fill="#1E7D8C"/>
<circle cx="410.30" cy="704.87" r="2.6" fill="#1E7D8C"/>
<circle cx="399.60" cy="710.24" r="2.6" fill="#1E7D8C"/>
<circle cx="420.90" cy="710.24" r="2.6" fill="#1E7D8C"/>
<circle cx="410.30" cy="711.26" r="2.6" fill="#1E7D8C"/>
<circle cx="410.30" cy="715.47" r="2.6" fill="#1E7D8C"/>
<circle cx="410.30" cy="722.30" r="2.6" fill="#1E7D8C"/>
<circle cx="420.90" cy="722.30" r="2.6" fill="#1E7D8C"/>
<circle cx="410.30" cy="727.09" r="2.6" fill="#1E7D8C"/>
<circle cx="420.90" cy="727.09" r="2.6" fill="#1E7D8C"/>
<circle cx="399.60" cy="729.99" r="2.6" fill="#1E7D8C"/>
<text x="281.03" y="794.30" font-size="14.2" fill="#1a1a1a" textLength="24.48" lengthAdjust="spacingAndGlyphs" >Veh</text>
<text x="319.83" y="794.30" font-size="14.2" fill="#1a1a1a" textLength="24.38" lengthAdjust="spacingAndGlyphs" >Veh</text>
<text x="357.44" y="794.30" font-size="14.2" fill="#1a1a1a" textLength="29.72" lengthAdjust="spacingAndGlyphs" >Daid</text>
<text x="399.09" y="794.30" font-size="14.2" fill="#1a1a1a" textLength="22.84" lengthAdjust="spacingAndGlyphs" >Chr</text>
<line x1="281.10" y1="800.60" x2="303.50" y2="800.60" stroke="#555" stroke-width="1.1" />
<line x1="324.30" y1="800.60" x2="419.50" y2="800.60" stroke="#555" stroke-width="1.1" />
<text x="284.13" y="817.70" font-size="14.2" fill="#1a1a1a" textLength="20.73" lengthAdjust="spacingAndGlyphs" >WT</text>
<text x="350.50" y="817.70" font-size="14.2" fill="#1a1a1a" textLength="57.61" lengthAdjust="spacingAndGlyphs" >APP/PS1</text>
<text x="460.46" y="593.80" font-size="18.5" fill="#1a1a1a" >I</text>
<text x="541.82" y="610.20" font-size="14" fill="#1a1a1a" textLength="87.23" lengthAdjust="spacingAndGlyphs" >Testing phase</text>
<text x="527.55" y="626.30" font-size="14" fill="#1a1a1a" textLength="122.62" lengthAdjust="spacingAndGlyphs" >(Recognition index)</text>
<text x="0" y="0" font-size="14.3" fill="#1a1a1a" textLength="57.08" lengthAdjust="spacingAndGlyphs" transform="translate(466.00,733.68) rotate(-90)">Time (%)</text>
<line x1="498.00" y1="630.80" x2="498.00" y2="777.60" stroke="#4d4d4d" stroke-width="1.0" />
<line x1="493.50" y1="777.10" x2="667.80" y2="777.10" stroke="#4d4d4d" stroke-width="1.1" />
<line x1="493.50" y1="777.10" x2="498.00" y2="777.10" stroke="#4d4d4d" stroke-width="1" />
<text x="486.02" y="781.10" font-size="11.3" fill="#1a1a1a">0</text>
<line x1="493.50" y1="728.50" x2="498.00" y2="728.50" stroke="#4d4d4d" stroke-width="1" />
<text x="479.75" y="732.50" font-size="11.3" fill="#1a1a1a">50</text>
<line x1="493.50" y1="679.90" x2="498.00" y2="679.90" stroke="#4d4d4d" stroke-width="1" />
<text x="473.48" y="683.90" font-size="11.3" fill="#1a1a1a">100</text>
<line x1="493.50" y1="631.30" x2="498.00" y2="631.30" stroke="#4d4d4d" stroke-width="1" />
<text x="473.48" y="635.30" font-size="11.3" fill="#1a1a1a">150</text>
<line x1="513.85" y1="718.10" x2="535.35" y2="718.10" stroke="#444" stroke-width="1.1" />
<line x1="524.60" y1="721.31" x2="524.60" y2="714.31" stroke="#444" stroke-width="1" />
<line x1="518.10" y1="721.31" x2="531.10" y2="721.31" stroke="#444" stroke-width="1" />
<line x1="518.10" y1="714.31" x2="531.10" y2="714.31" stroke="#444" stroke-width="1" />
<line x1="524.60" y1="777.10" x2="524.60" y2="780.60" stroke="#4d4d4d" stroke-width="1" />
<line x1="550.30" y1="741.33" x2="576.50" y2="741.33" stroke="#444" stroke-width="1.1" />
<line x1="563.40" y1="746.19" x2="563.40" y2="736.57" stroke="#444" stroke-width="1" />
<line x1="556.90" y1="746.19" x2="569.90" y2="746.19" stroke="#444" stroke-width="1" />
<line x1="556.90" y1="736.57" x2="569.90" y2="736.57" stroke="#444" stroke-width="1" />
<line x1="563.40" y1="777.10" x2="563.40" y2="780.60" stroke="#4d4d4d" stroke-width="1" />
<line x1="589.05" y1="729.08" x2="615.15" y2="729.08" stroke="#444" stroke-width="1.1" />
<line x1="602.10" y1="734.82" x2="602.10" y2="723.74" stroke="#444" stroke-width="1" />
<line x1="595.60" y1="734.82" x2="608.60" y2="734.82" stroke="#444" stroke-width="1" />
<line x1="595.60" y1="723.74" x2="608.60" y2="723.74" stroke="#444" stroke-width="1" />
<line x1="602.10" y1="777.10" x2="602.10" y2="780.60" stroke="#4d4d4d" stroke-width="1" />
<line x1="630.25" y1="723.15" x2="651.75" y2="723.15" stroke="#444" stroke-width="1.1" />
<line x1="641.00" y1="725.88" x2="641.00" y2="719.27" stroke="#444" stroke-width="1" />
<line x1="634.50" y1="725.88" x2="647.50" y2="725.88" stroke="#444" stroke-width="1" />
<line x1="634.50" y1="719.27" x2="647.50" y2="719.27" stroke="#444" stroke-width="1" />
<line x1="641.00" y1="777.10" x2="641.00" y2="780.60" stroke="#4d4d4d" stroke-width="1" />
<path d="M518.70,694.04 L523.70,694.04 L521.20,698.66 Z" fill="#6a6a6a"/>
<path d="M525.80,694.04 L530.80,694.04 L528.30,698.66 Z" fill="#6a6a6a"/>
<path d="M522.10,700.06 L527.10,700.06 L524.60,704.69 Z" fill="#6a6a6a"/>
<path d="M518.70,707.35 L523.70,707.35 L521.20,711.98 Z" fill="#6a6a6a"/>
<path d="M525.80,710.46 L530.80,710.46 L528.30,715.09 Z" fill="#6a6a6a"/>
<path d="M518.70,713.38 L523.70,713.38 L521.20,718.00 Z" fill="#6a6a6a"/>
<path d="M525.80,715.52 L530.80,715.52 L528.30,720.14 Z" fill="#6a6a6a"/>
<path d="M533.10,715.52 L538.10,715.52 L535.60,720.14 Z" fill="#6a6a6a"/>
<path d="M511.30,716.78 L516.30,716.78 L513.80,721.40 Z" fill="#6a6a6a"/>
<path d="M518.70,719.50 L523.70,719.50 L521.20,724.13 Z" fill="#6a6a6a"/>
<path d="M518.70,724.85 L523.70,724.85 L521.20,729.47 Z" fill="#6a6a6a"/>
<path d="M533.10,724.85 L538.10,724.85 L535.60,729.47 Z" fill="#6a6a6a"/>
<path d="M525.80,727.47 L530.80,727.47 L528.30,732.10 Z" fill="#6a6a6a"/>
<path d="M522.10,752.06 L527.10,752.06 L524.60,756.69 Z" fill="#6a6a6a"/>
<rect x="550.00" y="710.15" width="5.20" height="5.20" fill="#EE8C5A" stroke="none" stroke-width="1" />
<rect x="560.80" y="714.24" width="5.20" height="5.20" fill="#EE8C5A" stroke="none" stroke-width="1" />
<rect x="571.50" y="718.90" width="5.20" height="5.20" fill="#EE8C5A" stroke="none" stroke-width="1" />
<rect x="560.80" y="720.55" width="5.20" height="5.20" fill="#EE8C5A" stroke="none" stroke-width="1" />
<rect x="571.50" y="724.93" width="5.20" height="5.20" fill="#EE8C5A" stroke="none" stroke-width="1" />
<rect x="560.80" y="726.87" width="5.20" height="5.20" fill="#EE8C5A" stroke="none" stroke-width="1" />
<rect x="550.00" y="733.00" width="5.20" height="5.20" fill="#EE8C5A" stroke="none" stroke-width="1" />
<rect x="571.50" y="733.00" width="5.20" height="5.20" fill="#EE8C5A" stroke="none" stroke-width="1" />
<rect x="560.80" y="736.30" width="5.20" height="5.20" fill="#EE8C5A" stroke="none" stroke-width="1" />
<rect x="560.80" y="739.51" width="5.20" height="5.20" fill="#EE8C5A" stroke="none" stroke-width="1" />
<rect x="560.80" y="741.74" width="5.20" height="5.20" fill="#EE8C5A" stroke="none" stroke-width="1" />
<rect x="550.00" y="751.07" width="5.20" height="5.20" fill="#EE8C5A" stroke="none" stroke-width="1" />
<rect x="571.50" y="755.55" width="5.20" height="5.20" fill="#EE8C5A" stroke="none" stroke-width="1" />
<rect x="560.80" y="758.46" width="5.20" height="5.20" fill="#EE8C5A" stroke="none" stroke-width="1" />
<rect x="560.80" y="761.38" width="5.20" height="5.20" fill="#EE8C5A" stroke="none" stroke-width="1" />
<rect x="560.80" y="763.22" width="5.20" height="5.20" fill="#EE8C5A" stroke="none" stroke-width="1" />
<rect x="571.50" y="764.88" width="5.20" height="5.20" fill="#EE8C5A" stroke="none" stroke-width="1" />
<rect x="550.00" y="767.89" width="5.20" height="5.20" fill="#EE8C5A" stroke="none" stroke-width="1" />
<path d="M602.10,679.32 L605.40,682.62 L602.10,685.92 L598.80,682.62 Z" fill="#CC9C56"/>
<path d="M598.80,694.39 L602.10,697.69 L598.80,700.99 L595.50,697.69 Z" fill="#CC9C56"/>
<path d="M605.50,696.04 L608.80,699.34 L605.50,702.64 L602.20,699.34 Z" fill="#CC9C56"/>
<path d="M598.80,706.54 L602.10,709.84 L598.80,713.14 L595.50,709.84 Z" fill="#CC9C56"/>
<path d="M605.50,706.54 L608.80,709.84 L605.50,713.14 L602.20,709.84 Z" fill="#CC9C56"/>
<path d="M598.80,712.76 L602.10,716.06 L598.80,719.36 L595.50,716.06 Z" fill="#CC9C56"/>
<path d="M592.10,720.92 L595.40,724.22 L592.10,727.52 L588.80,724.22 Z" fill="#CC9C56"/>
<path d="M598.80,720.92 L602.10,724.22 L598.80,727.52 L595.50,724.22 Z" fill="#CC9C56"/>
<path d="M605.50,719.95 L608.80,723.25 L605.50,726.55 L602.20,723.25 Z" fill="#CC9C56"/>
<path d="M605.50,726.95 L608.80,730.25 L605.50,733.55 L602.20,730.25 Z" fill="#CC9C56"/>
<path d="M612.20,728.21 L615.50,731.51 L612.20,734.81 L608.90,731.51 Z" fill="#CC9C56"/>
<path d="M592.10,730.93 L595.40,734.23 L592.10,737.53 L588.80,734.23 Z" fill="#CC9C56"/>
<path d="M598.80,732.30 L602.10,735.60 L598.80,738.90 L595.50,735.60 Z" fill="#CC9C56"/>
<path d="M605.50,736.28 L608.80,739.58 L605.50,742.88 L602.20,739.58 Z" fill="#CC9C56"/>
<path d="M598.80,741.72 L602.10,745.02 L598.80,748.32 L595.50,745.02 Z" fill="#CC9C56"/>
<path d="M602.10,748.43 L605.40,751.73 L602.10,755.03 L598.80,751.73 Z" fill="#CC9C56"/>
<path d="M602.10,755.14 L605.40,758.44 L602.10,761.74 L598.80,758.44 Z" fill="#CC9C56"/>
<path d="M605.50,769.23 L608.80,772.53 L605.50,775.83 L602.20,772.53 Z" fill="#CC9C56"/>
<path d="M598.80,770.50 L602.10,773.80 L598.80,777.10 L595.50,773.80 Z" fill="#CC9C56"/>
<circle cx="641.00" cy="703.42" r="2.6" fill="#1E7D8C"/>
<circle cx="641.00" cy="709.06" r="2.6" fill="#1E7D8C"/>
<circle cx="630.50" cy="709.84" r="2.6" fill="#1E7D8C"/>
<circle cx="651.70" cy="710.52" r="2.6" fill="#1E7D8C"/>
<circle cx="630.50" cy="715.67" r="2.6" fill="#1E7D8C"/>
<circle cx="651.70" cy="717.03" r="2.6" fill="#1E7D8C"/>
<circle cx="641.00" cy="720.82" r="2.6" fill="#1E7D8C"/>
<circle cx="630.50" cy="721.50" r="2.6" fill="#1E7D8C"/>
<circle cx="630.50" cy="726.85" r="2.6" fill="#1E7D8C"/>
<circle cx="641.00" cy="730.44" r="2.6" fill="#1E7D8C"/>
<circle cx="630.50" cy="731.80" r="2.6" fill="#1E7D8C"/>
<circle cx="651.70" cy="734.23" r="2.6" fill="#1E7D8C"/>
<circle cx="646.40" cy="743.57" r="2.6" fill="#1E7D8C"/>
<circle cx="635.60" cy="745.41" r="2.6" fill="#1E7D8C"/>
<text x="511.53" y="794.70" font-size="14.2" fill="#1a1a1a" textLength="24.59" lengthAdjust="spacingAndGlyphs" >Veh</text>
<text x="550.43" y="794.70" font-size="14.2" fill="#1a1a1a" textLength="24.48" lengthAdjust="spacingAndGlyphs" >Veh</text>
<text x="588.15" y="794.70" font-size="14.2" fill="#1a1a1a" textLength="29.50" lengthAdjust="spacingAndGlyphs" >Daid</text>
<text x="630.21" y="794.70" font-size="14.2" fill="#1a1a1a" textLength="22.11" lengthAdjust="spacingAndGlyphs" >Chr</text>
<line x1="512.00" y1="801.30" x2="535.70" y2="801.30" stroke="#555" stroke-width="1.1" />
<line x1="553.20" y1="801.30" x2="649.10" y2="801.30" stroke="#555" stroke-width="1.1" />
<text x="515.43" y="818.40" font-size="14.2" fill="#1a1a1a" textLength="21.54" lengthAdjust="spacingAndGlyphs" >WT</text>
<text x="579.40" y="818.40" font-size="14.2" fill="#1a1a1a" textLength="57.61" lengthAdjust="spacingAndGlyphs" >APP/PS1</text>
<line x1="524.20" y1="678.40" x2="563.70" y2="678.40" stroke="#555" stroke-width="1.1" />
<text x="539.72" y="677.60" font-size="12" fill="#1a1a1a" class="st">**</text>
<line x1="563.30" y1="661.10" x2="641.80" y2="661.10" stroke="#999" stroke-width="1.3" />
<text x="597.96" y="659.70" font-size="12" fill="#1a1a1a" class="st">*</text>
</svg>
</body></html>
